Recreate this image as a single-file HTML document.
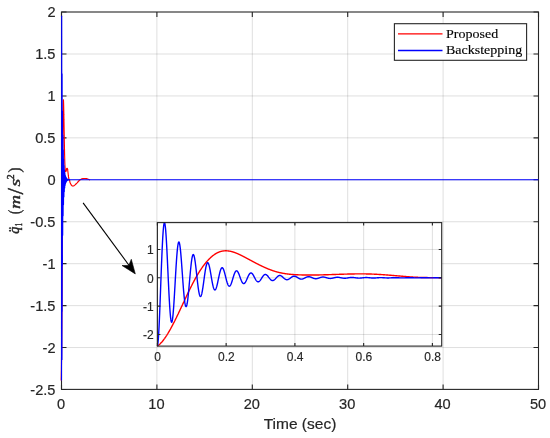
<!DOCTYPE html>
<html><head><meta charset="utf-8"><title>plot</title>
<style>html,body{margin:0;padding:0;background:#fff;width:550px;height:438px;overflow:hidden}svg{display:block}</style>
</head><body>
<svg width="550" height="438" viewBox="0 0 550 438">
<rect width="550" height="438" fill="#fff"/>
<path d="M156.90 12.00V389.40M252.30 12.00V389.40M347.70 12.00V389.40M443.10 12.00V389.40M61.50 54.00H538.50M61.50 95.93H538.50M61.50 137.87H538.50M61.50 179.80H538.50M61.50 221.74H538.50M61.50 263.67H538.50M61.50 305.61H538.50M61.50 347.54H538.50" stroke="#262626" stroke-opacity="0.15" stroke-width="1" fill="none"/>
<path d="M61.50 389.40v-5.00M61.50 12.00v5.00M156.90 389.40v-5.00M156.90 12.00v5.00M252.30 389.40v-5.00M252.30 12.00v5.00M347.70 389.40v-5.00M347.70 12.00v5.00M443.10 389.40v-5.00M443.10 12.00v5.00M538.50 389.40v-5.00M538.50 12.00v5.00M61.50 12.06h5.00M538.50 12.06h-5.00M61.50 54.00h5.00M538.50 54.00h-5.00M61.50 95.93h5.00M538.50 95.93h-5.00M61.50 137.87h5.00M538.50 137.87h-5.00M61.50 179.80h5.00M538.50 179.80h-5.00M61.50 221.74h5.00M538.50 221.74h-5.00M61.50 263.67h5.00M538.50 263.67h-5.00M61.50 305.61h5.00M538.50 305.61h-5.00M61.50 347.54h5.00M538.50 347.54h-5.00M61.50 389.48h5.00M538.50 389.48h-5.00" stroke="#262626" stroke-width="1.1" fill="none"/>
<rect x="61.50" y="12.00" width="477.00" height="377.40" stroke="#262626" stroke-width="1.1" fill="none"/>
<path d="M61.20 380.42L61.21 380.10L61.22 379.78L61.22 379.46L61.23 379.12L61.24 378.77L61.25 378.42L61.25 378.06L61.26 377.69L61.27 377.32L61.27 376.93L61.28 376.54L61.29 376.14L61.30 375.73L61.30 375.32L61.31 374.90L61.32 374.47L61.33 374.03L61.33 373.59L61.34 373.14L61.35 372.68L61.35 372.21L61.36 371.74L61.37 371.26L61.37 372.21L61.38 371.71L61.39 371.21L61.39 370.69L61.40 370.18L61.41 369.65L61.41 369.12L61.42 368.58L61.43 368.03L61.43 367.48L61.44 366.92L61.45 366.36L61.45 365.79L61.46 365.21L61.47 364.62L61.47 364.03L61.48 363.44L61.49 362.83L61.49 362.22L61.50 361.61L61.51 360.99L61.51 360.36L61.52 359.72L61.53 359.09L61.53 358.44L61.54 357.79L61.54 357.13L61.55 356.47L61.56 355.80L61.56 355.13L61.57 354.45L61.57 353.76L61.58 353.07L61.59 352.38L61.59 351.68L61.60 350.97L61.61 350.26L61.61 349.55L61.62 348.82L61.62 348.10L61.63 347.37L61.63 346.63L61.64 345.89L61.65 345.14L61.65 344.39L61.66 343.63L61.66 342.87L61.67 342.11L61.68 341.34L61.68 340.56L61.69 339.78L61.69 339.00L61.70 338.21L61.70 337.42L61.71 336.63L61.72 335.82L61.72 335.02L61.73 334.21L61.73 333.40L61.74 332.58L61.74 331.76L61.75 330.93L61.76 330.11L61.76 329.27L61.77 328.44L61.77 327.60L61.78 326.75L61.78 325.90L61.79 325.05L61.79 324.20L61.80 323.34L61.81 322.48L61.81 321.61L61.82 320.75L61.82 319.87L61.83 319.00L61.83 318.12L61.84 317.24L61.84 316.36L61.85 315.47L61.85 314.58L61.86 313.69L61.86 312.79L61.87 311.89L61.87 310.99L61.88 310.09L61.89 309.18L61.89 308.27L61.90 307.36L61.90 306.45L61.91 305.53L61.91 304.61L61.92 303.69L61.92 302.76L61.93 301.84L61.93 300.91L61.94 299.98L61.94 299.05L61.95 298.11L61.95 297.17L61.96 296.24L61.96 295.29L61.97 294.35L61.97 293.41L61.98 292.46L61.98 291.51L61.99 290.56L61.99 289.61L62.00 288.66L62.00 287.70L62.01 286.75L62.01 285.79L62.02 284.83L62.02 283.87L62.03 282.91L62.03 281.94L62.04 280.98L62.04 280.01L62.05 279.05L62.05 278.08L62.06 277.11L62.06 276.14L62.07 275.17L62.07 274.19L62.08 273.22L62.08 272.25L62.09 271.27L62.09 270.30L62.10 269.32L62.10 268.35L62.11 267.37L62.11 266.39L62.12 265.41L62.12 264.43L62.13 263.46L62.13 262.48L62.14 261.50L62.14 260.52L62.15 259.54L62.15 258.56L62.16 257.58L62.16 256.60L62.17 255.62L62.17 254.64L62.18 253.66L62.18 252.68L62.19 251.70L62.19 250.72L62.20 249.74L62.20 248.76L62.21 247.78L62.21 246.80L62.21 245.82L62.22 244.84L62.22 243.87L62.23 242.89L62.23 241.92L62.24 240.94L62.24 239.97L62.25 238.99L62.25 238.02L62.26 237.05L62.26 236.08L62.27 235.11L62.27 234.14L62.28 233.17L62.28 232.21L62.29 231.24L62.29 230.28L62.29 229.31L62.30 228.35L62.30 227.39L62.31 226.43L62.31 225.48L62.32 224.52L62.32 223.57L62.33 222.61L62.33 221.66L62.34 220.71L62.34 219.77L62.35 218.82L62.35 217.88L62.36 216.93L62.36 215.99L62.36 215.06L62.37 214.12L62.37 213.19L62.38 212.25L62.38 211.32L62.39 210.40L62.39 209.47L62.40 208.55L62.40 207.63L62.41 206.71L62.41 205.79L62.42 204.88L62.42 203.97L62.42 203.06L62.43 202.16L62.43 201.25L62.44 200.35L62.44 199.46L62.45 198.56L62.45 197.67L62.46 196.78L62.46 195.89L62.47 195.01L62.47 194.13L62.47 193.26L62.48 192.38L62.48 191.51L62.49 190.65L62.49 189.78L62.50 188.92L62.50 188.07L62.51 187.21L62.51 186.36L62.52 185.52L62.52 184.67L62.52 183.83L62.53 183.00L62.53 182.17L62.54 181.34L62.54 180.51L62.55 179.69L62.55 178.88L62.56 178.07L62.56 177.26L62.56 176.45L62.57 175.65L62.57 174.86L62.58 174.06L62.58 173.27L62.59 172.49L62.59 171.71L62.60 170.93L62.60 170.16L62.61 169.39L62.61 168.62L62.61 167.86L62.62 167.11L62.62 166.35L62.63 165.61L62.63 164.86L62.64 164.12L62.64 163.38L62.65 162.65L62.65 161.92L62.65 161.20L62.66 160.48L62.66 159.76L62.67 159.05L62.67 158.34L62.68 157.63L62.68 156.93L62.69 156.24L62.69 155.54L62.69 154.85L62.70 154.17L62.70 153.49L62.71 152.81L62.71 152.14L62.72 151.47L62.72 150.81L62.73 150.15L62.73 149.49L62.73 148.84L62.74 148.19L62.74 147.55L62.75 146.91L62.75 146.28L62.76 145.65L62.76 145.02L62.77 144.40L62.77 143.78L62.77 143.16L62.78 142.55L62.78 141.95L62.79 141.35L62.79 140.75L62.80 140.15L62.80 139.56L62.80 138.98L62.81 138.40L62.81 137.82L62.82 137.25L62.82 136.68L62.83 136.12L62.83 135.56L62.84 135.00L62.84 134.45L62.84 133.90L62.85 133.36L62.85 132.82L62.86 132.28L62.86 131.75L62.87 131.23L62.87 130.70L62.88 130.19L62.88 129.67L62.88 129.16L62.89 128.66L62.89 128.16L62.90 127.66L62.90 127.17L62.91 126.68L62.91 126.20L62.91 125.72L62.92 125.24L62.92 124.77L62.93 124.31L62.93 123.84L62.94 123.39L62.94 122.93L62.95 122.48L62.95 122.04L62.95 121.60L62.96 121.16L62.96 120.73L62.97 120.30L62.97 119.88L62.98 119.46L62.98 119.05L62.98 118.64L62.99 118.23L62.99 117.83L63.00 117.43L63.00 117.04L63.01 116.65L63.01 116.27L63.01 115.89L63.02 115.51L63.02 115.14L63.03 114.78L63.03 114.41L63.04 114.06L63.04 113.70L63.05 113.35L63.05 113.01L63.05 112.67L63.06 112.34L63.06 112.01L63.07 111.68L63.07 111.36L63.08 111.04L63.08 110.73L63.08 110.42L63.09 110.11L63.09 109.81L63.10 109.52L63.10 109.23L63.11 108.94L63.11 108.66L63.11 108.38L63.12 108.11L63.12 107.84L63.13 107.58L63.13 107.32L63.14 107.07L63.14 106.82L63.15 106.57L63.15 106.33L63.15 106.09L63.16 105.86L63.16 105.63L63.17 105.41L63.17 105.19L63.18 104.98L63.18 104.77L63.18 104.56L63.19 104.36L63.19 104.17L63.20 103.98L63.20 103.79L63.21 103.61L63.21 103.43L63.21 103.26L63.22 103.09L63.22 102.93L63.23 102.77L63.23 102.62L63.24 102.47L63.24 102.32L63.25 102.18L63.25 102.04L63.25 101.91L63.26 101.78L63.26 101.66L63.27 101.54L63.27 101.43L63.28 101.32L63.28 101.21L63.28 101.11L63.29 101.01L63.29 100.92L63.30 100.83L63.30 100.75L63.31 100.67L63.31 100.59L63.31 100.52L63.32 100.45L63.32 100.38L63.33 100.32L63.33 100.27L63.34 100.21L63.34 100.16L63.34 100.12L63.35 100.08L63.35 100.04L63.36 100.01L63.36 99.98L63.37 99.95L63.37 99.93L63.37 99.91L63.38 99.90L63.38 99.88L63.39 99.88L63.39 99.87L63.40 99.87L63.40 99.88L63.41 99.88L63.41 99.89L63.41 99.91L63.42 99.92L63.42 99.94L63.43 99.97L63.43 99.99L63.44 100.03L63.44 100.06L63.44 100.10L63.45 100.14L63.45 100.18L63.46 100.23L63.46 100.28L63.47 100.33L63.47 100.39L63.47 100.45L63.48 100.51L63.48 100.57L63.49 100.64L63.49 100.72L63.50 100.79L63.50 100.87L63.50 100.95L63.51 101.03L63.51 101.12L63.52 101.21L63.52 101.30L63.53 101.39L63.53 101.49L63.53 101.59L63.54 101.69L63.54 101.80L63.55 101.91L63.55 102.02L63.56 102.13L63.56 102.25L63.56 102.37L63.57 102.49L63.57 102.61L63.58 102.74L63.58 102.87L63.59 103.00L63.59 103.13L63.59 103.27L63.60 103.41L63.60 103.55L63.61 103.69L63.61 103.84L63.62 103.99L63.62 104.14L63.62 104.29L63.63 104.44L63.63 104.60L63.64 104.76L63.64 104.92L63.65 105.08L63.65 105.25L63.66 105.41L63.66 105.58L63.66 105.75L63.67 105.93L63.67 106.10L63.68 106.28L63.68 106.46L63.69 106.64L63.69 106.82L63.69 107.00L63.70 107.19L63.70 107.38L63.71 107.57L63.71 107.76L63.72 107.95L63.72 108.14L63.72 108.34L63.73 108.54L63.73 108.74L63.74 108.94L63.74 109.14L63.75 109.34L63.75 109.55L63.75 109.75L63.76 109.96L63.76 110.17L63.77 110.38L63.77 110.59L63.78 110.81L63.78 111.02L63.78 111.24L63.79 111.45L63.79 111.67L63.80 111.89L63.80 112.11L63.81 112.34L63.81 112.56L63.81 112.78L63.82 113.01L63.82 113.23L63.83 113.46L63.83 113.69L63.84 113.92L63.84 114.15L63.84 114.38L63.85 114.61L63.85 114.84L63.86 115.08L63.86 115.31L63.87 115.55L63.87 115.78L63.87 116.02L63.88 116.26L63.88 116.49L63.89 116.73L63.89 116.97L63.90 117.21L63.90 117.45L63.90 117.69L63.91 117.93L63.91 118.17L63.92 118.42L63.92 118.66L63.93 118.90L63.93 119.15L63.93 119.39L63.94 119.63L63.94 119.88L63.95 120.12L63.95 120.37L63.96 120.61L63.96 120.86L63.96 121.11L63.97 121.35L63.97 121.60L63.98 121.84L63.98 122.09L63.99 122.34L63.99 122.58L64.00 122.83L64.00 123.07L64.00 123.32L64.01 123.57L64.01 123.81L64.02 124.06L64.02 124.31L64.03 124.55L64.03 124.80L64.03 125.05L64.04 125.29L64.04 125.54L64.05 125.79L64.05 126.03L64.06 126.28L64.06 126.52L64.06 126.77L64.07 127.02L64.07 127.26L64.08 127.51L64.08 127.76L64.09 128.00L64.09 128.25L64.09 128.49L64.10 128.74L64.10 128.98L64.11 129.23L64.11 129.47L64.12 129.72L64.12 129.96L64.12 130.21L64.13 130.45L64.13 130.70L64.14 130.94L64.14 131.18L64.15 131.43L64.15 131.67L64.15 131.91L64.16 132.16L64.16 132.40L64.17 132.64L64.17 132.88L64.18 133.13L64.18 133.37L64.18 133.61L64.19 133.85L64.19 134.09L64.20 134.33L64.20 134.57L64.21 134.81L64.21 135.05L64.21 135.29L64.22 135.53L64.22 135.77L64.23 136.01L64.23 136.25L64.24 136.48L64.24 136.72L64.24 136.96L64.25 137.19L64.25 137.43L64.26 137.67L64.26 137.90L64.27 138.14L64.27 138.37L64.27 138.61L64.28 138.84L64.28 139.07L64.29 139.31L64.29 139.54L64.30 139.77L64.30 140.00L64.30 140.23L64.31 140.46L64.31 140.69L64.32 140.92L64.32 141.15L64.33 141.38L64.33 141.61L64.33 141.84L64.34 142.06L64.34 142.29L64.35 142.52L64.35 142.74L64.36 142.97L64.36 143.19L64.36 143.42L64.37 143.64L64.37 143.86L64.38 144.08L64.38 144.31L64.39 144.53L64.39 144.75L64.39 144.97L64.40 145.19L64.40 145.40L64.41 145.62L64.41 145.84L64.42 146.06L64.42 146.27L64.42 146.49L64.43 146.70L64.43 146.92L64.44 147.13L64.44 147.34L64.45 147.55L64.45 147.76L64.45 147.97L64.46 148.18L64.46 148.39L64.47 148.60L64.47 148.81L64.48 149.02L64.48 149.22L64.49 149.43L64.49 149.63L64.49 149.83L64.50 150.04L64.50 150.24L64.51 150.44L64.51 150.64L64.52 150.84L64.52 151.04L64.52 151.24L64.53 151.43L64.53 151.63L64.54 151.83L64.54 152.02L64.55 152.21L64.55 152.41L64.55 152.60L64.56 152.79L64.56 152.98L64.57 153.17L64.57 153.36L64.58 153.54L64.58 153.73L64.58 153.92L64.59 154.10L64.59 154.28L64.60 154.47L64.60 154.65L64.61 154.83L64.61 155.01L64.61 155.19L64.62 155.37L64.62 155.54L64.63 155.72L64.63 155.89L64.64 156.07L64.64 156.24L64.64 156.41L64.65 156.58L64.65 156.75L64.66 156.92L64.66 157.09L64.67 157.26L64.67 157.42L64.67 157.58L64.68 157.75L64.68 157.91L64.69 158.07L64.69 158.23L64.70 158.39L64.70 158.55L64.70 158.70L64.71 158.86L64.71 159.01L64.72 159.17L64.72 159.32L64.73 159.47L64.73 159.62L64.73 159.77L64.74 159.92L64.74 160.06L64.75 160.21L64.75 160.35L64.76 160.49L64.76 160.63L64.76 160.77L64.77 160.91L64.77 161.05L64.78 161.19L64.78 161.32L64.79 161.46L64.79 161.59L64.79 161.72L64.80 161.85L64.80 161.98L64.81 162.11L64.81 162.23L64.82 162.36L64.82 162.48L64.82 162.61L64.83 162.73L64.83 162.85L64.84 162.97L64.84 163.09L64.85 163.20L64.85 163.32L64.85 163.44L64.86 163.55L64.86 163.66L64.87 163.77L64.87 163.88L64.88 163.99L64.88 164.10L64.88 164.21L64.89 164.32L64.89 164.42L64.90 164.53L64.90 164.63L64.91 164.73L64.91 164.83L64.91 164.93L64.92 165.03L64.92 165.13L64.93 165.22L64.93 165.32L64.94 165.42L64.94 165.51L64.94 165.60L64.95 165.69L64.95 165.78L64.96 165.87L64.96 165.96L64.97 166.05L64.97 166.14L64.97 166.22L64.98 166.31L64.98 166.39L64.99 166.48L64.99 166.56L65.00 166.64L65.00 166.72L65.00 166.80L65.01 166.88L65.01 166.95L65.02 167.03L65.02 167.11L65.03 167.18L65.03 167.25L65.03 167.33L65.04 167.40L65.04 167.47L65.05 167.54L65.05 167.61L65.06 167.68L65.06 167.75L65.06 167.81L65.07 167.88L65.07 167.95L65.08 168.01L65.08 168.07L65.09 168.14L65.09 168.20L65.10 168.26L65.10 168.32L65.10 168.38L65.11 168.44L65.11 168.50L65.12 168.56L65.12 168.61L65.13 168.67L65.13 168.72L65.13 168.78L65.14 168.83L65.14 168.88L65.15 168.94L65.15 168.99L65.16 169.04L65.16 169.09L65.16 169.14L65.17 169.19L65.17 169.23L65.18 169.28L65.18 169.33L65.19 169.37L65.19 169.42L65.19 169.46L65.20 169.51L65.20 169.55L65.21 169.59L65.21 169.63L65.22 169.68L65.22 169.72L65.22 169.76L65.23 169.80L65.23 169.83L65.24 169.87L65.24 169.91L65.25 169.95L65.25 169.98L65.25 170.02L65.26 170.06L65.26 170.09L65.27 170.12L65.27 170.16L65.28 170.19L65.28 170.22L65.28 170.25L65.29 170.29L65.29 170.32L65.30 170.35L65.30 170.38L65.31 170.41L65.31 170.44L65.31 170.46L65.32 170.49L65.32 170.52L65.33 170.55L65.33 170.57L65.34 170.60L65.34 170.62L65.34 170.65L65.35 170.67L65.35 170.70L65.36 170.72L65.36 170.74L65.37 170.77L65.37 170.79L65.37 170.81L65.38 170.83L65.38 170.85L65.39 170.87L65.39 170.89L65.40 170.91L65.40 170.93L65.40 170.95L65.41 170.97L65.41 170.99L65.42 171.01L65.42 171.02L65.43 171.04L65.43 171.06L65.43 171.08L65.44 171.09L65.44 171.11L65.45 171.12L65.45 171.14L65.46 171.15L65.46 171.17L65.46 171.18L65.47 171.20L65.47 171.21L65.48 171.22L65.48 171.24L65.49 171.25L65.49 171.26L65.49 171.28L65.50 171.29L65.50 171.30L65.51 171.31L65.51 171.32L65.52 171.34L65.52 171.35L65.52 171.36L65.53 171.37L65.53 171.38L65.54 171.39L65.54 171.40L65.55 171.41L65.55 171.42L65.55 171.43L65.56 171.43L65.56 171.44L65.57 171.45L65.57 171.46L65.58 171.47L65.58 171.48L65.58 171.48L65.59 171.49L65.59 171.50L65.60 171.50L65.60 171.51L65.61 171.52L65.61 171.52L65.61 171.53L65.62 171.53L65.62 171.54L65.63 171.54L65.63 171.55L65.64 171.55L65.64 171.56L65.64 171.56L65.65 171.57L65.65 171.57L65.66 171.57L65.66 171.58L65.67 171.58L65.67 171.58L65.67 171.59L65.68 171.59L65.68 171.59L65.69 171.59L65.69 171.60L65.70 171.60L65.70 171.60L65.70 171.60L65.71 171.60L65.71 171.60L65.72 171.60L65.72 171.60L65.73 171.60L65.73 171.60L65.74 171.60L65.74 171.60L65.74 171.60L65.75 171.60L65.75 171.60L65.76 171.60L65.76 171.60L65.77 171.60L65.77 171.60L65.77 171.60L65.78 171.59L65.78 171.59L65.79 171.59L65.79 171.59L65.80 171.58L65.80 171.58L65.80 171.58L65.81 171.58L65.81 171.57L65.82 171.57L65.82 171.57L65.83 171.56L65.83 171.56L65.83 171.55L65.84 171.55L65.84 171.55L65.85 171.54L65.85 171.54L65.86 171.53L65.86 171.53L65.86 171.52L65.87 171.52L65.87 171.51L65.88 171.50L65.88 171.50L65.89 171.49L65.89 171.49L65.89 171.48L65.90 171.47L65.90 171.47L65.91 171.46L65.91 171.45L65.92 171.45L65.92 171.44L65.92 171.43L65.93 171.42L65.93 171.42L65.94 171.41L65.94 171.40L65.95 171.39L65.95 171.39L65.95 171.38L65.96 171.37L65.96 171.36L65.97 171.35L65.97 171.34L65.98 171.33L65.98 171.33L65.98 171.32L65.99 171.31L65.99 171.30L66.00 171.29L66.00 171.28L66.01 171.27L66.01 171.26L66.01 171.25L66.02 171.24L66.02 171.23L66.03 171.22L66.03 171.21L66.04 171.20L66.04 171.19L66.04 171.18L66.05 171.17L66.05 171.15L66.06 171.14L66.06 171.13L66.07 171.12L66.07 171.11L66.07 171.10L66.08 171.09L66.08 171.07L66.09 171.06L66.09 171.05L66.10 171.04L66.10 171.03L66.10 171.01L66.11 171.00L66.11 170.99L66.12 170.98L66.12 170.97L66.13 170.95L66.13 170.94L66.13 170.93L66.14 170.91L66.14 170.90L66.15 170.89L66.15 170.88L66.16 170.86L66.16 170.85L66.16 170.84L66.17 170.82L66.17 170.81L66.18 170.80L66.18 170.78L66.19 170.77L66.19 170.76L66.19 170.74L66.20 170.73L66.20 170.71L66.21 170.70L66.21 170.69L66.22 170.67L66.22 170.66L66.22 170.64L66.23 170.63L66.23 170.61L66.24 170.60L66.24 170.59L66.25 170.57L66.25 170.56L66.25 170.54L66.26 170.53L66.26 170.51L66.27 170.50L66.27 170.48L66.28 170.47L66.28 170.45L66.28 170.44L66.29 170.42L66.29 170.41L66.30 170.39L66.30 170.38L66.31 170.36L66.31 170.35L66.31 170.33L66.32 170.32L66.32 170.30L66.33 170.29L66.33 170.27L66.34 170.26L66.34 170.24L66.34 170.23L66.35 170.21L66.35 170.20L66.36 170.18L66.36 170.17L66.37 170.15L66.37 170.13L66.37 170.12L66.38 170.10L66.38 170.09L66.39 170.07L66.39 170.06L66.40 170.04L66.40 170.03L66.41 170.01L66.41 169.99L66.41 169.98L66.42 169.96L66.42 169.95L66.43 169.93L66.43 169.92L66.44 169.90L66.44 169.88L66.44 169.87L66.45 169.85L66.45 169.84L66.46 169.82L66.46 169.81L66.47 169.79L66.47 169.78L66.47 169.76L66.48 169.74L66.48 169.73L66.49 169.71L66.49 169.70L66.50 169.68L66.50 169.67L66.50 169.65L66.51 169.64L66.51 169.62L66.52 169.60L66.52 169.59L66.53 169.57L66.53 169.56L66.53 169.54L66.54 169.53L66.54 169.51L66.55 169.50L66.55 169.48L66.56 169.47L66.56 169.45L66.56 169.44L66.57 169.42L66.57 169.41L66.58 169.39L66.58 169.38L66.59 169.36L66.59 169.35L66.59 169.33L66.60 169.32L66.60 169.30L66.61 169.29L66.61 169.27L66.62 169.26L66.62 169.24L66.62 169.23L66.63 169.22L66.63 169.20L66.64 169.19L66.64 169.17L66.65 169.16L66.65 169.14L66.65 169.13L66.66 169.12L66.66 169.10L66.67 169.09L66.67 169.07L66.68 169.06L66.68 169.05L66.68 169.03L66.69 169.02L66.69 169.01L66.70 168.99L66.70 168.98L66.71 168.96L66.71 168.95L66.71 168.94L66.72 168.93L66.72 168.91L66.73 168.90L66.73 168.89L66.74 168.87L66.74 168.86L66.74 168.85L66.75 168.84L66.75 168.82L66.76 168.81L66.76 168.80L66.77 168.79L66.77 168.77L66.77 168.76L66.78 168.75L66.78 168.74L66.79 168.73L66.79 168.72L66.80 168.70L66.80 168.69L66.80 168.68L66.81 168.67L66.81 168.66L66.82 168.65L66.82 168.64L66.83 168.63L66.83 168.61L66.83 168.60L66.84 168.59L66.84 168.58L66.85 168.57L66.85 168.56L66.86 168.55L66.86 168.54L66.86 168.53L66.87 168.52L66.87 168.51L66.88 168.50L66.88 168.49L66.89 168.49L66.89 168.48L66.89 168.47L66.90 168.46L66.90 168.45L66.91 168.44L66.91 168.43L66.92 168.42L66.92 168.42L66.92 168.41L66.93 168.40L66.93 168.39L66.94 168.38L66.94 168.38L66.95 168.37L66.95 168.36L66.95 168.36L66.96 168.35L66.96 168.34L66.97 168.33L66.97 168.33L66.98 168.32L66.98 168.32L66.98 168.31L66.99 168.30L66.99 168.30L67.00 168.29L67.00 168.29L67.01 168.28L67.01 168.28L67.01 168.27L67.02 168.27L67.02 168.26L67.03 168.26L67.03 168.25L67.04 168.25L67.04 168.24L67.05 168.24L67.05 168.24L67.05 168.23L67.06 168.23L67.06 168.23L67.07 168.22L67.07 168.22L67.08 168.22L67.08 168.21L67.08 168.21L67.09 168.21L67.09 168.21L67.10 168.21L67.10 168.20L67.11 168.20L67.11 168.20L67.11 168.20L67.12 168.20L67.12 168.20L67.13 168.20L67.13 168.20L67.14 168.20L67.14 168.20L67.14 168.20L67.15 168.20L67.15 168.20L67.16 168.20L67.16 168.20L67.17 168.20L67.17 168.20L67.17 168.21L67.18 168.21L67.18 168.21L67.19 168.21L67.19 168.21L67.20 168.22L67.20 168.22L67.20 168.22L67.21 168.23L67.21 168.23L67.22 168.23L67.22 168.24L67.23 168.24L67.23 168.24L67.23 168.25L67.24 168.25L67.24 168.26L67.25 168.26L67.25 168.27L67.26 168.27L67.26 168.28L67.26 168.29L67.27 168.29L67.27 168.30L67.28 168.31L67.28 168.31L67.29 168.32L67.29 168.33L67.29 168.34L67.30 168.34L67.30 168.35L67.31 168.36L67.31 168.37L67.32 168.38L67.32 168.39L67.32 168.40L67.33 168.41L67.33 168.42L67.34 168.43L67.34 168.44L67.35 168.45L67.35 168.46L67.35 168.47L67.36 168.48L67.36 168.49L67.37 168.50L67.37 168.51L67.38 168.53L67.38 168.54L67.38 168.55L67.39 168.57L67.39 168.58L67.40 168.59L67.40 168.61L67.41 168.62L67.41 168.63L67.41 168.65L67.42 168.66L67.42 168.68L67.43 168.69L67.43 168.71L67.44 168.73L67.44 168.74L67.44 168.76L67.45 168.78L67.45 168.79L67.46 168.81L67.46 168.83L67.47 168.85L67.47 168.86L67.47 168.88L67.48 168.90L67.48 168.92L67.49 168.94L67.49 168.96L67.50 168.98L67.50 169.00L67.50 169.02L67.51 169.04L67.51 169.06L67.52 169.08L67.52 169.10L67.53 169.12L67.53 169.14L67.53 169.16L67.54 169.19L67.54 169.21L67.55 169.23L67.55 169.25L67.56 169.28L67.56 169.30L67.56 169.32L67.57 169.35L67.57 169.37L67.58 169.39L67.58 169.42L67.59 169.44L67.59 169.47L67.59 169.49L67.60 169.52L67.60 169.54L67.61 169.57L67.61 169.59L67.62 169.62L67.62 169.64L67.62 169.67L67.63 169.70L67.63 169.72L67.64 169.75L67.64 169.78L67.65 169.80L67.65 169.83L67.65 169.86L67.66 169.89L67.66 169.92L67.67 169.94L67.67 169.97L67.68 170.00L67.68 170.03L67.69 170.06L67.69 170.09L67.69 170.12L67.70 170.15L67.70 170.17L67.71 170.20L67.71 170.23L67.72 170.26L67.72 170.29L67.72 170.32L67.73 170.36L67.73 170.39L67.74 170.42L67.74 170.45L67.75 170.48L67.75 170.51L67.75 170.54L67.76 170.57L67.76 170.60L67.77 170.64L67.77 170.67L67.78 170.70L67.78 170.73L67.78 170.77L67.79 170.80L67.79 170.83L67.80 170.86L67.80 170.90L67.81 170.93L67.81 170.96L67.81 171.00L67.82 171.03L67.82 171.06L67.83 171.10L67.83 171.13L67.84 171.17L67.84 171.20L67.84 171.23L67.85 171.27L67.85 171.30L67.86 171.34L67.86 171.37L67.87 171.41L67.87 171.44L67.87 171.48L67.88 171.51L67.88 171.55L67.89 171.58L67.89 171.62L67.90 171.65L67.90 171.69L67.90 171.73L67.91 171.76L67.91 171.80L67.92 171.83L67.92 171.87L67.93 171.91L67.93 171.94L67.93 171.98L67.94 172.01L67.94 172.05L67.95 172.09L67.95 172.12L67.96 172.16L67.96 172.20L67.96 172.24L67.97 172.27L67.97 172.31L67.98 172.35L67.98 172.38L67.99 172.42L67.99 172.46L67.99 172.50L68.00 172.53L68.00 172.57L68.01 172.61L68.01 172.65L68.02 172.68L68.02 172.72L68.02 172.76L68.03 172.80L68.03 172.84L68.04 172.87L68.04 172.91L68.05 172.95L68.05 172.99L68.05 173.03L68.06 173.07L68.06 173.10L68.07 173.14L68.07 173.18L68.08 173.22L68.08 173.26L68.08 173.30L68.09 173.33L68.09 173.37L68.10 173.41L68.10 173.45L68.11 173.49L68.11 173.53L68.11 173.57L68.12 173.60L68.12 173.64L68.13 173.68L68.13 173.72L68.14 173.76L68.14 173.80L68.14 173.84L68.15 173.88L68.15 173.91L68.16 173.95L68.16 173.99L68.17 174.03L68.17 174.07L68.17 174.11L68.18 174.15L68.18 174.19L68.19 174.23L68.19 174.26L68.20 174.30L68.20 174.34L68.20 174.38L68.21 174.42L68.21 174.46L68.22 174.50L68.22 174.54L68.23 174.57L68.23 174.61L68.23 174.65L68.24 174.69L68.24 174.73L68.25 174.77L68.25 174.81L68.26 174.84L68.26 174.88L68.26 174.92L68.27 174.96L68.27 175.00L68.28 175.04L68.28 175.07L68.29 175.11L68.29 175.15L68.29 175.19L68.30 175.23L68.30 175.27L68.31 175.30L68.31 175.34L68.32 175.38L68.32 175.42L68.32 175.46L68.33 175.49L68.33 175.53L68.34 175.57L68.34 175.61L68.35 175.64L68.35 175.68L68.36 175.72L68.36 175.76L68.36 175.79L68.37 175.83L68.37 175.87L68.38 175.90L68.38 175.94L68.39 175.98L68.39 176.02L68.39 176.05L68.40 176.09L68.40 176.13L68.41 176.16L68.41 176.20L68.42 176.23L68.42 176.27L68.42 176.31L68.43 176.34L68.43 176.38L68.44 176.42L68.44 176.45L68.45 176.49L68.45 176.52L68.45 176.56L68.46 176.59L68.46 176.63L68.47 176.66L68.47 176.70L68.48 176.73L68.48 176.77L68.48 176.80L68.49 176.84L68.49 176.87L68.50 176.91L68.50 176.94L68.51 176.98L68.51 177.01L68.51 177.04L68.52 177.08L68.52 177.11L68.53 177.14L68.53 177.18L68.54 177.21L68.54 177.24L68.54 177.28L68.55 177.31L68.55 177.34L68.56 177.38L68.56 177.41L68.57 177.44L68.57 177.46L68.57 177.49L68.58 177.52L68.58 177.55L68.59 177.58L68.59 177.61L68.60 177.63L68.60 177.66L68.60 177.69L68.61 177.71L68.61 177.74L68.62 177.77L68.62 177.79L68.63 177.82L68.63 177.84L68.63 177.87L68.64 177.90L68.64 177.92L68.65 177.94L68.65 177.97L68.66 177.99L68.66 178.02L68.66 178.04L68.67 178.07L68.67 178.09L68.68 178.11L68.68 178.13L68.69 178.16L68.69 178.18L68.69 178.20L68.70 178.22L68.70 178.25L68.71 178.27L68.71 178.29L68.72 178.31L68.72 178.33L68.72 178.35L68.73 178.37L68.73 178.39L68.74 178.41L68.74 178.43L68.75 178.45L68.75 178.47L68.75 178.49L68.76 178.51L68.76 178.53L68.77 178.54L68.77 178.56L68.78 178.58L68.78 178.60L68.78 178.61L68.79 178.63L68.79 178.65L68.80 178.66L68.80 178.68L68.81 178.70L68.81 178.71L68.81 178.73L68.82 178.74L68.82 178.76L68.83 178.77L68.83 178.78L68.84 178.80L68.84 178.81L68.84 178.82L68.85 178.84L68.85 178.85L68.86 178.86L68.86 178.87L68.87 178.89L68.87 178.90L68.87 178.91L68.88 178.92L68.88 178.93L68.89 178.94L68.89 178.95L68.90 178.96L68.90 178.97L68.90 178.98L68.91 178.99L68.91 179.00L68.92 179.01L68.92 179.02L68.93 179.02L68.93 179.03L68.93 179.04L68.94 179.05L68.94 179.06L68.95 179.06L68.95 179.07L68.96 179.08L68.96 179.08L68.96 179.09L68.97 179.10L68.97 179.10L68.98 179.11L68.98 179.11L68.99 179.12L68.99 179.12L69.00 179.13L69.00 179.13L69.00 179.14L69.01 179.14L69.01 179.15L69.02 179.15L69.02 179.16L69.03 179.16L69.03 179.16L69.03 179.17L69.04 179.17L69.04 179.18L69.05 179.18L69.05 179.18L69.06 179.19L69.06 179.19L69.06 179.19L69.07 179.19L69.07 179.20L69.08 179.20L69.08 179.20L69.09 179.21L69.09 179.21L69.09 179.21L69.10 179.21L69.10 179.22L69.11 179.22L69.11 179.22L69.12 179.22L69.12 179.22L69.12 179.23L69.13 179.23L69.13 179.23L69.14 179.23L69.14 179.24L69.15 179.24L69.15 179.24L69.15 179.24L69.16 179.25L69.16 179.25L69.17 179.25L69.17 179.25L69.18 179.26L69.18 179.26L69.18 179.26L69.19 179.27L69.19 179.27L69.20 179.27L69.20 179.28L69.21 179.28L69.21 179.28L69.21 179.29L69.22 179.29L69.22 179.30L69.23 179.30L69.23 179.31L69.24 179.31L69.24 179.32L69.24 179.32L69.25 179.33L69.25 179.33L69.26 179.34L69.26 179.34L69.27 179.35L69.27 179.36L69.27 179.36L69.28 179.37L69.28 179.38L69.29 179.39L69.29 179.40L69.30 179.41L69.30 179.41L69.30 179.42L69.31 179.43L69.31 179.44L69.32 179.45L69.32 179.47L69.33 179.48L69.33 179.49L69.33 179.50L69.34 179.51L69.34 179.52L69.35 179.54L69.35 179.55L69.36 179.56L69.36 179.57L69.36 179.59L69.37 179.60L69.37 179.61L69.38 179.62L69.38 179.64L69.39 179.65L69.39 179.66L69.39 179.68L69.40 179.69L69.40 179.70L69.41 179.72L69.41 179.73L69.42 179.75L69.42 179.76L69.42 179.78L69.43 179.79L69.43 179.80L69.44 179.82L69.44 179.83L69.45 179.85L69.45 179.87L69.45 179.88L69.46 179.90L69.46 179.91L69.47 179.93L69.47 179.94L69.48 179.96L69.48 179.98L69.48 179.99L69.49 180.01L69.49 180.02L69.50 180.04L69.50 180.06L69.51 180.07L69.51 180.09L69.51 180.11L69.52 180.13L69.52 180.14L69.53 180.16L69.53 180.18L69.54 180.20L69.54 180.21L69.54 180.23L69.55 180.25L69.55 180.27L69.56 180.28L69.56 180.30L69.57 180.32L69.57 180.34L69.57 180.36L69.58 180.38L69.58 180.39L69.59 180.41L69.59 180.43L69.60 180.45L69.60 180.47L69.60 180.49L69.61 180.51L69.61 180.53L69.62 180.54L69.62 180.56L69.63 180.58L69.63 180.60L69.64 180.62L69.64 180.64L69.64 180.66L69.65 180.68L69.65 180.70L69.66 180.72L69.66 180.74L69.67 180.76L69.67 180.78L69.67 180.80L69.68 180.82L69.68 180.84L69.69 180.86L69.69 180.88L69.70 180.90L69.70 180.92L69.70 180.94L69.71 180.96L69.71 180.98L69.72 181.00L69.72 181.02L69.73 181.04L69.73 181.06L69.73 181.08L69.74 181.10L69.74 181.12L69.75 181.14L69.75 181.16L69.76 181.18L69.76 181.20L69.76 181.22L69.77 181.24L69.77 181.27L69.78 181.29L69.78 181.31L69.79 181.33L69.79 181.35L69.79 181.37L69.80 181.39L69.80 181.41L69.81 181.43L69.81 181.45L69.82 181.47L69.82 181.49L69.82 181.51L69.83 181.53L69.83 181.55L69.84 181.57L69.84 181.59L69.85 181.62L69.85 181.64L69.85 181.66L69.86 181.68L69.86 181.70L69.87 181.72L69.87 181.74L69.88 181.76L69.88 181.78L69.88 181.80L69.89 181.82L69.89 181.84L69.90 181.86L69.90 181.88L69.91 181.90L69.91 181.92L69.91 181.94L69.92 181.96L69.92 181.98L69.93 182.00L69.93 182.02L69.94 182.04L69.94 182.06L69.94 182.08L69.95 182.10L69.95 182.12L69.96 182.14L69.96 182.16L69.97 182.18L69.97 182.20L69.97 182.22L69.98 182.24L69.98 182.26L69.99 182.28L69.99 182.30L70.00 182.32L70.00 182.34L70.00 182.35L70.01 182.37L70.01 182.39L70.02 182.41L70.02 182.43L70.03 182.45L70.03 182.47L70.03 182.49L70.04 182.50L70.04 182.52L70.05 182.54L70.05 182.56L70.06 182.58L70.06 182.60L70.06 182.61L70.07 182.63L70.07 182.65L70.08 182.67L70.08 182.68L70.09 182.70L71.26 184.96L72.43 186.05L73.61 186.01L74.78 185.14L75.96 183.97L77.13 182.84L78.30 181.50L79.48 180.27L80.65 179.47L81.83 178.89L83.00 178.64L84.17 178.51L85.35 178.46L86.52 178.62L87.70 179.03L88.87 179.51L90.04 179.93" stroke="#ff0000" stroke-width="1.15" fill="none" stroke-linejoin="round"/>
<path d="M61.50 380.42L61.50 379.03L61.51 376.76L61.51 373.61L61.52 369.60L61.52 364.77L61.53 359.14L61.53 352.75L61.53 345.63L61.54 337.82L61.54 329.37L61.55 320.31L61.55 310.69L61.56 300.57L61.56 290.00L61.56 279.02L61.57 267.68L61.57 256.06L61.58 244.19L61.58 232.14L61.59 219.97L61.59 207.72L61.59 195.46L61.60 183.24L61.60 171.02L61.61 158.92L61.61 147.02L61.62 135.38L61.62 124.05L61.62 113.08L61.63 102.52L61.63 92.40L61.64 82.78L61.64 73.68L61.65 65.16L61.65 57.23L61.65 49.93L61.66 43.29L61.66 37.34L61.67 32.08L61.67 27.55L61.68 23.76L61.68 20.70L61.68 18.40L61.69 16.86L61.69 16.07L61.70 16.03L61.70 16.74L61.71 18.19L61.71 20.35L61.71 23.22L61.72 26.78L61.72 31.00L61.73 35.86L61.73 41.33L61.74 47.38L61.74 53.98L61.74 61.09L61.75 68.67L61.75 76.69L61.76 85.10L61.76 93.86L61.77 102.94L61.77 112.28L61.77 121.85L61.78 131.58L61.78 141.45L61.79 151.40L61.79 161.39L61.80 171.37L61.80 181.29L61.80 191.09L61.81 200.74L61.81 210.20L61.82 219.45L61.82 228.42L61.83 237.09L61.83 245.42L61.84 253.38L61.84 260.92L61.84 268.03L61.85 274.67L61.85 280.82L61.86 286.45L61.86 291.55L61.87 296.08L61.87 300.05L61.87 303.44L61.88 306.23L61.88 308.41L61.89 310.00L61.89 310.97L61.90 311.34L61.90 311.11L61.90 310.29L61.91 308.87L61.91 306.89L61.92 304.34L61.92 301.25L61.93 297.63L61.93 293.52L61.93 288.92L61.94 283.87L61.94 278.39L61.95 272.52L61.95 266.27L61.96 259.69L61.96 252.81L61.96 245.66L61.97 238.28L61.97 230.69L61.98 222.95L61.98 215.08L61.99 207.12L61.99 199.12L61.99 191.10L62.00 183.10L62.00 175.16L62.01 167.31L62.01 159.59L62.02 152.04L62.02 144.68L62.02 137.55L62.03 130.68L62.03 124.10L62.04 117.83L62.04 111.90L62.05 106.33L62.05 101.15L62.05 96.38L62.06 92.02L62.06 88.11L62.07 84.65L62.07 81.66L62.08 79.14L62.08 77.10L62.08 75.55L62.09 74.49L62.09 73.91L62.10 73.83L62.10 74.22L62.11 75.09L62.11 76.43L62.11 78.23L62.12 80.48L62.12 83.15L62.13 86.24L62.13 89.73L62.14 93.60L62.14 97.82L62.14 102.38L62.15 107.24L62.15 112.39L62.16 117.80L62.16 123.45L62.17 129.29L62.17 135.32L62.17 141.49L62.18 147.77L62.18 154.15L62.19 160.58L62.19 167.04L62.20 173.50L62.20 179.93L62.20 186.30L62.21 192.58L62.21 198.74L62.22 204.76L62.22 210.62L62.23 216.27L62.23 221.71L62.23 226.91L62.24 231.85L62.24 236.50L62.25 240.85L62.25 244.89L62.26 248.59L62.26 251.94L62.26 254.94L62.27 257.56L62.27 259.81L62.28 261.67L62.28 263.14L62.29 264.22L62.29 264.91L62.29 265.20L62.30 265.10L62.30 264.62L62.31 263.75L62.31 262.51L62.32 260.90L62.32 258.94L62.32 256.63L62.33 254.00L62.33 251.06L62.34 247.82L62.34 244.30L62.35 240.51L62.35 236.49L62.35 232.25L62.36 227.80L62.36 223.18L62.37 218.40L62.37 213.50L62.38 208.48L62.38 203.38L62.38 198.22L62.39 193.03L62.39 187.82L62.40 182.62L62.40 177.46L62.41 172.35L62.41 167.33L62.41 162.41L62.42 157.62L62.42 152.97L62.43 148.48L62.43 144.18L62.44 140.08L62.44 136.20L62.44 132.56L62.45 129.16L62.45 126.03L62.46 123.16L62.46 120.59L62.47 118.30L62.47 116.32L62.47 114.64L62.48 113.28L62.48 112.23L62.49 111.49L62.49 111.08L62.50 110.98L62.50 111.20L62.51 111.72L62.51 112.55L62.51 113.68L62.52 115.10L62.52 116.80L62.53 118.78L62.53 121.01L62.54 123.49L62.54 126.20L62.54 129.13L62.55 132.26L62.55 135.58L62.56 139.08L62.56 142.72L62.57 146.50L62.57 150.40L62.57 154.39L62.58 158.47L62.58 162.60L62.59 166.77L62.59 170.97L62.60 175.16L62.60 179.34L62.60 183.48L62.61 187.57L62.61 191.58L62.62 195.50L62.62 199.32L62.63 203.01L62.63 206.56L62.63 209.95L62.64 213.18L62.64 216.23L62.65 219.08L62.65 221.73L62.66 224.16L62.66 226.37L62.66 228.34L62.67 230.08L62.67 231.57L62.68 232.81L62.68 233.80L62.69 234.54L62.69 235.02L62.69 235.24L62.70 235.21L62.70 234.93L62.71 234.39L62.71 233.62L62.72 232.61L62.72 231.36L62.72 229.90L62.73 228.22L62.73 226.33L62.74 224.25L62.74 221.99L62.75 219.55L62.75 216.96L62.75 214.22L62.76 211.35L62.76 208.37L62.77 205.28L62.77 202.10L62.78 198.85L62.78 195.55L62.78 192.20L62.79 188.83L62.79 185.45L62.80 182.07L62.80 178.72L62.81 175.40L62.81 172.13L62.81 168.93L62.82 165.80L62.82 162.77L62.83 159.84L62.83 157.03L62.84 154.35L62.84 151.82L62.84 149.43L62.85 147.20L62.85 145.14L62.86 143.26L62.86 141.56L62.87 140.05L62.87 138.74L62.87 137.62L62.88 136.71L62.88 136.00L62.89 135.50L62.89 135.20L62.90 135.11L62.90 135.23L62.90 135.54L62.91 136.06L62.91 136.76L62.92 137.66L62.92 138.74L62.93 140.00L62.93 141.43L62.93 143.02L62.94 144.76L62.94 146.64L62.95 148.66L62.95 150.80L62.96 153.06L62.96 155.41L62.96 157.85L62.97 160.37L62.97 162.96L62.98 165.60L62.98 168.28L62.99 170.99L62.99 173.71L62.99 176.43L63.00 179.15L63.00 181.84L63.01 184.50L63.01 187.11L63.02 189.66L63.02 192.15L63.02 194.56L63.03 196.88L63.03 199.10L63.04 201.21L63.04 203.20L63.05 205.07L63.05 206.81L63.05 208.40L63.06 209.86L63.06 211.16L63.07 212.31L63.07 213.30L63.08 214.12L63.08 214.79L63.08 215.29L63.09 215.62L63.09 215.79L63.10 215.79L63.10 215.63L63.11 215.32L63.11 214.86L63.11 214.25L63.12 213.48L63.12 212.57L63.13 211.51L63.13 210.32L63.14 209.00L63.14 207.56L63.15 206.00L63.15 204.33L63.15 202.57L63.16 200.72L63.16 198.78L63.17 196.78L63.17 194.71L63.18 192.59L63.18 190.44L63.18 188.25L63.19 186.03L63.19 183.81L63.20 181.59L63.20 179.38L63.21 177.18L63.21 175.02L63.21 172.89L63.22 170.81L63.22 168.79L63.23 166.84L63.23 164.96L63.24 163.16L63.24 161.45L63.24 159.84L63.25 158.33L63.25 156.93L63.26 155.65L63.26 154.49L63.27 153.45L63.27 152.54L63.27 151.76L63.28 151.11L63.28 150.60L63.29 150.23L63.29 149.99L63.30 149.89L63.30 149.93L63.30 150.11L63.31 150.41L63.31 150.85L63.32 151.42L63.32 152.11L63.33 152.92L63.33 153.85L63.33 154.89L63.34 156.03L63.34 157.27L63.35 158.61L63.35 160.03L63.36 161.53L63.36 163.10L63.36 164.73L63.37 166.42L63.37 168.16L63.38 169.94L63.38 171.74L63.39 173.57L63.39 175.42L63.39 177.27L63.40 179.11L63.40 180.95L63.41 182.76L63.41 184.55L63.42 186.30L63.42 188.01L63.42 189.67L63.43 191.27L63.43 192.80L63.44 194.26L63.44 195.65L63.45 196.95L63.45 198.17L63.45 199.29L63.46 200.31L63.46 201.24L63.47 202.05L63.47 202.76L63.48 203.36L63.48 203.85L63.48 204.23L63.49 204.49L63.49 204.64L63.50 204.67L63.50 204.59L63.51 204.39L63.51 204.09L63.51 203.68L63.52 203.16L63.52 202.55L63.53 201.83L63.53 201.02L63.54 200.11L63.54 199.13L63.54 198.06L63.55 196.92L63.55 195.71L63.56 194.43L63.56 193.10L63.57 191.72L63.57 190.30L63.57 188.84L63.58 187.35L63.58 185.84L63.59 184.31L63.59 182.78L63.60 181.24L63.60 179.71L63.60 178.19L63.61 176.69L63.61 175.21L63.62 173.77L63.62 172.37L63.63 171.01L63.63 169.70L63.63 168.45L63.64 167.26L63.64 166.14L63.65 165.09L63.65 164.11L63.66 163.21L63.66 162.40L63.66 161.67L63.67 161.03L63.67 160.48L63.68 160.02L63.68 159.65L63.69 159.38L63.69 159.21L63.69 159.13L63.70 159.14L63.70 159.25L63.71 159.45L63.71 159.74L63.72 160.12L63.72 160.59L63.72 161.14L63.73 161.77L63.73 162.48L63.74 163.26L63.74 164.11L63.75 165.02L63.75 166.00L63.75 167.03L63.76 168.11L63.76 169.23L63.77 170.40L63.77 171.59L63.78 172.82L63.78 174.07L63.79 175.33L63.79 176.60L63.79 177.88L63.80 179.16L63.80 180.43L63.81 181.69L63.81 182.92L63.82 184.14L63.82 185.32L63.82 186.47L63.83 187.59L63.83 188.65L63.84 189.67L63.84 190.64L63.85 191.55L63.85 192.39L63.85 193.18L63.86 193.89L63.86 194.54L63.87 195.12L63.87 195.62L63.88 196.04L63.88 196.39L63.88 196.66L63.89 196.85L63.89 196.96L63.90 197.00L63.90 196.95L63.91 196.83L63.91 196.63L63.91 196.35L63.92 196.01L63.92 195.59L63.93 195.10L63.93 194.55L63.94 193.93L63.94 193.26L63.94 192.53L63.95 191.74L63.95 190.91L63.96 190.04L63.96 189.12L63.97 188.17L63.97 187.19L63.97 186.18L63.98 185.16L63.98 184.11L63.99 183.06L63.99 182.00L64.00 180.93L64.00 179.87L64.00 178.82L64.01 177.78L64.01 176.76L64.02 175.76L64.02 174.79L64.03 173.84L64.03 172.94L64.03 172.07L64.04 171.24L64.04 170.45L64.05 169.72L64.05 169.04L64.06 168.41L64.06 167.84L64.06 167.33L64.07 166.87L64.07 166.49L64.08 166.16L64.08 165.90L64.09 165.70L64.09 165.57L64.09 165.51L64.10 165.51L64.10 165.58L64.11 165.71L64.11 165.90L64.12 166.15L64.12 166.47L64.12 166.84L64.13 167.27L64.13 167.75L64.14 168.29L64.14 168.87L64.15 169.50L64.15 170.17L64.15 170.87L64.16 171.62L64.16 172.39L64.17 173.19L64.17 174.02L64.18 174.86L64.18 175.72L64.18 176.59L64.19 177.47L64.19 178.36L64.20 179.24L64.20 180.12L64.21 180.99L64.21 181.85L64.21 182.69L64.22 183.51L64.22 184.31L64.23 185.08L64.23 185.83L64.24 186.54L64.24 187.21L64.24 187.84L64.25 188.43L64.25 188.98L64.26 189.48L64.26 189.94L64.27 190.34L64.27 190.69L64.27 191.00L64.28 191.24L64.28 191.44L64.29 191.58L64.29 191.66L64.30 191.69L64.30 191.67L64.30 191.59L64.31 191.46L64.31 191.27L64.32 191.04L64.32 190.76L64.33 190.43L64.33 190.05L64.33 189.63L64.34 189.17L64.34 188.67L64.35 188.13L64.35 187.56L64.36 186.96L64.36 186.33L64.36 185.68L64.37 185.00L64.37 184.31L64.38 183.60L64.38 182.88L64.39 182.15L64.39 181.42L64.39 180.68L64.40 179.95L64.40 179.22L64.41 178.50L64.41 177.79L64.42 177.10L64.42 176.42L64.42 175.77L64.43 175.13L64.43 174.53L64.44 173.95L64.44 173.41L64.45 172.90L64.45 172.42L64.46 171.98L64.46 171.58L64.46 171.22L64.47 170.90L64.47 170.63L64.48 170.40L64.48 170.21L64.49 170.07L64.49 169.97L64.49 169.92L64.50 169.92L64.50 169.96L64.51 170.04L64.51 170.17L64.52 170.34L64.52 170.55L64.52 170.80L64.53 171.10L64.53 171.42L64.54 171.79L64.54 172.19L64.55 172.62L64.55 173.08L64.55 173.56L64.56 174.07L64.56 174.60L64.57 175.16L64.57 175.72L64.58 176.31L64.58 176.90L64.58 177.50L64.59 178.11L64.59 178.72L64.60 179.33L64.60 179.94L64.61 180.54L64.61 181.14L64.61 181.72L64.62 182.29L64.62 182.85L64.63 183.38L64.63 183.90L64.64 184.39L64.64 184.86L64.64 185.30L64.65 185.72L64.65 186.10L64.66 186.45L64.66 186.77L64.67 187.05L64.67 187.30L64.67 187.52L64.68 187.69L64.68 187.83L64.69 187.93L64.69 188.00L64.70 188.02L64.70 188.01L64.70 187.96L64.71 187.87L64.71 187.75L64.72 187.59L64.72 187.40L64.73 187.18L64.73 186.92L64.73 186.64L64.74 186.32L64.74 185.98L64.75 185.61L64.75 185.22L64.76 184.81L64.76 184.37L64.76 183.92L64.77 183.46L64.77 182.98L64.78 182.49L64.78 181.99L64.79 181.49L64.79 180.98L64.79 180.48L64.80 179.97L64.80 179.46L64.81 178.97L64.81 178.47L64.82 177.99L64.82 177.52L64.82 177.07L64.83 176.63L64.83 176.21L64.84 175.81L64.84 175.43L64.85 175.07L64.85 174.74L64.85 174.43L64.86 174.15L64.86 173.90L64.87 173.67L64.87 173.48L64.88 173.32L64.88 173.18L64.88 173.08L64.89 173.01L64.89 172.97L64.90 172.96L64.90 172.99L64.91 173.04L64.91 173.13L64.91 173.24L64.92 173.38L64.92 173.56L64.93 173.75L64.93 173.98L64.94 174.23L64.94 174.50L64.94 174.79L64.95 175.11L64.95 175.44L64.96 175.79L64.96 176.16L64.97 176.54L64.97 176.93L64.97 177.33L64.98 177.74L64.98 178.16L64.99 178.58L64.99 179.00L65.00 179.42L65.00 179.84L65.00 180.26L65.01 180.67L65.01 181.08L65.02 181.47L65.02 181.86L65.03 182.23L65.03 182.59L65.03 182.93L65.04 183.26L65.04 183.57L65.05 183.86L65.05 184.12L65.06 184.37L65.06 184.59L65.06 184.79L65.07 184.97L65.07 185.12L65.08 185.24L65.08 185.34L65.09 185.41L65.09 185.46L65.10 185.48L65.10 185.48L65.10 185.45L65.11 185.39L65.11 185.31L65.12 185.21L65.12 185.08L65.13 184.92L65.13 184.75L65.13 184.55L65.14 184.34L65.14 184.10L65.15 183.85L65.15 183.58L65.16 183.30L65.16 183.00L65.16 182.69L65.17 182.37L65.17 182.04L65.18 181.71L65.18 181.36L65.19 181.01L65.19 180.66L65.19 180.31L65.20 179.96L65.20 179.61L65.21 179.27L65.21 178.93L65.22 178.59L65.22 178.27L65.22 177.95L65.23 177.65L65.23 177.35L65.24 177.08L65.24 176.81L65.25 176.56L65.25 176.33L65.25 176.11L65.26 175.92L65.26 175.74L65.27 175.58L65.27 175.45L65.28 175.33L65.28 175.24L65.28 175.16L65.29 175.11L65.29 175.08L65.30 175.07L65.30 175.09L65.31 175.12L65.31 175.18L65.31 175.25L65.32 175.35L65.32 175.47L65.33 175.60L65.33 175.75L65.34 175.92L65.34 176.11L65.34 176.31L65.35 176.53L65.35 176.76L65.36 177.00L65.36 177.25L65.37 177.51L65.37 177.78L65.37 178.06L65.38 178.34L65.38 178.63L65.39 178.92L65.39 179.21L65.40 179.50L65.40 179.79L65.40 180.08L65.41 180.37L65.41 180.65L65.42 180.92L65.42 181.19L65.43 181.45L65.43 181.70L65.43 181.94L65.44 182.16L65.44 182.38L65.45 182.58L65.45 182.77L65.46 182.94L65.46 183.09L65.46 183.23L65.47 183.36L65.47 183.46L65.48 183.55L65.48 183.62L65.49 183.68L65.49 183.71L65.49 183.73L65.50 183.73L65.50 183.71L65.51 183.67L65.51 183.62L65.52 183.55L65.52 183.46L65.52 183.36L65.53 183.24L65.53 183.11L65.54 182.96L65.54 182.80L65.55 182.62L65.55 182.44L65.55 182.25L65.56 182.04L65.56 181.83L65.57 181.61L65.57 181.38L65.58 181.15L65.58 180.91L65.58 180.67L65.59 180.43L65.59 180.19L65.60 179.94L65.60 179.70L65.61 179.46L65.61 179.23L65.61 179.00L65.62 178.77L65.62 178.55L65.63 178.34L65.63 178.14L65.64 177.94L65.64 177.76L65.64 177.58L65.65 177.42L65.65 177.27L65.66 177.13L65.66 177.01L65.67 176.90L65.67 176.80L65.67 176.72L65.68 176.65L65.68 176.60L65.69 176.56L65.69 176.54L65.70 176.53L65.70 176.54L65.70 176.56L65.71 176.60L65.71 176.65L65.72 176.71L65.72 176.79L65.73 176.88L65.73 176.99L65.74 177.10L65.74 177.23L65.74 177.37L65.75 177.52L65.75 177.67L65.76 177.84L65.76 178.01L65.77 178.19L65.77 178.38L65.77 178.57L65.78 178.76L65.78 178.96L65.79 179.16L65.79 179.36L65.80 179.57L65.80 179.77L65.80 179.97L65.81 180.17L65.81 180.36L65.82 180.55L65.82 180.74L65.83 180.92L65.83 181.09L65.83 181.26L65.84 181.41L65.84 181.56L65.85 181.70L65.85 181.83L65.86 181.95L65.86 182.06L65.86 182.16L65.87 182.25L65.87 182.32L65.88 182.39L65.88 182.44L65.89 182.48L65.89 182.50L65.89 182.52L65.90 182.52L65.90 182.51L65.91 182.48L65.91 182.45L65.92 182.40L65.92 182.34L65.92 182.27L65.93 182.19L65.93 182.10L65.94 182.00L65.94 181.89L65.95 181.77L65.95 181.64L65.95 181.51L65.96 181.37L65.96 181.22L65.97 181.07L65.97 180.91L65.98 180.75L65.98 180.59L65.98 180.42L65.99 180.26L65.99 180.09L66.00 179.92L66.00 179.75L66.01 179.59L66.01 179.43L66.01 179.26L66.02 179.11L66.02 178.96L66.03 178.81L66.03 178.67L66.04 178.53L66.04 178.40L66.04 178.28L66.05 178.17L66.05 178.06L66.06 177.97L66.06 177.88L66.07 177.80L66.07 177.74L66.07 177.68L66.08 177.63L66.08 177.59L66.09 177.56L66.09 177.55L66.10 177.54L66.10 177.54L66.10 177.56L66.11 177.58L66.11 177.62L66.12 177.66L66.12 177.71L66.13 177.77L66.13 177.85L66.13 177.92L66.14 178.01L66.14 178.11L66.15 178.21L66.15 178.32L66.16 178.43L66.16 178.55L66.16 178.67L66.17 178.80L66.17 178.93L66.18 179.07L66.18 179.20L66.19 179.34L66.19 179.48L66.19 179.62L66.20 179.76L66.20 179.90L66.21 180.04L66.21 180.17L66.22 180.30L66.22 180.43L66.22 180.56L66.23 180.68L66.23 180.79L66.24 180.90L66.24 181.01L66.25 181.10L66.25 181.19L66.25 181.28L66.26 181.36L66.26 181.42L66.27 181.49L66.27 181.54L66.28 181.58L66.28 181.62L66.28 181.65L66.29 181.67L66.29 181.68L66.30 181.68L66.30 181.67L66.31 181.66L66.31 181.63L66.31 181.60L66.32 181.56L66.32 181.51L66.33 181.46L66.33 181.40L66.34 181.33L66.34 181.25L66.34 181.17L66.35 181.09L66.35 180.99L66.36 180.90L66.36 180.80L66.37 180.69L66.37 180.58L66.37 180.47L66.38 180.36L66.38 180.25L66.39 180.13L66.39 180.02L66.40 179.90L66.40 179.78L66.41 179.67L66.41 179.56L66.41 179.44L66.42 179.34L66.42 179.23L66.43 179.13L66.43 179.03L66.44 178.94L66.44 178.85L66.44 178.76L66.45 178.68L66.45 178.61L66.46 178.54L66.46 178.48L66.47 178.43L66.47 178.38L66.47 178.34L66.48 178.30L66.48 178.28L66.49 178.26L66.49 178.24L66.50 178.24L66.50 178.24L66.50 178.25L66.51 178.26L66.51 178.29L66.52 178.32L66.52 178.35L66.53 178.39L66.53 178.44L66.53 178.50L66.54 178.56L66.54 178.62L66.55 178.69L66.55 178.76L66.56 178.84L66.56 178.92L66.56 179.01L66.57 179.10L66.57 179.19L66.58 179.28L66.58 179.37L66.59 179.47L66.59 179.57L66.59 179.66L66.60 179.76L66.60 179.86L66.61 179.95L66.61 180.04L66.62 180.14L66.62 180.22L66.62 180.31L66.63 180.39L66.63 180.48L66.64 180.55L66.64 180.62L66.65 180.69L66.65 180.76L66.65 180.82L66.66 180.87L66.66 180.92L66.67 180.96L66.67 181.00L66.68 181.03L66.68 181.06L66.68 181.08L66.69 181.09L66.69 181.10L66.70 181.10L66.70 181.10L66.71 181.09L66.71 181.07L66.71 181.05L66.72 181.02L66.72 180.99L66.73 180.95L66.73 180.91L66.74 180.86L66.74 180.81L66.74 180.76L66.75 180.70L66.75 180.63L66.76 180.57L66.76 180.50L66.77 180.43L66.77 180.35L66.77 180.28L66.78 180.20L66.78 180.12L66.79 180.04L66.79 179.96L66.80 179.88L66.80 179.80L66.80 179.72L66.81 179.64L66.81 179.56L66.82 179.49L66.82 179.42L66.83 179.34L66.83 179.28L66.83 179.21L66.84 179.15L66.84 179.09L66.85 179.03L66.85 178.98L66.86 178.94L66.86 178.89L66.86 178.85L66.87 178.82L66.87 178.79L66.88 178.77L66.88 178.75L66.89 178.73L66.89 178.72L66.89 178.72L66.90 178.72L66.90 178.73L66.91 178.74L66.91 178.75L66.92 178.77L66.92 178.79L66.92 178.82L66.93 178.86L66.93 178.89L66.94 178.93L66.94 178.98L66.95 179.03L66.95 179.08L66.95 179.13L66.96 179.19L66.96 179.24L66.97 179.31L66.97 179.37L66.98 179.43L66.98 179.50L66.98 179.56L66.99 179.63L66.99 179.70L67.00 179.76L67.00 179.83L67.01 179.90L67.01 179.96L67.01 180.02L67.02 180.09L67.02 180.15L67.03 180.20L67.03 180.26L67.04 180.31L67.04 180.36L67.05 180.41L67.05 180.46L67.05 180.50L67.06 180.53L67.06 180.57L67.07 180.60L67.07 180.63L67.08 180.65L67.08 180.67L67.08 180.68L67.09 180.69L67.09 180.70L67.10 180.70L67.10 180.70L67.11 180.69L67.11 180.68L67.11 180.67L67.12 180.65L67.12 180.63L67.13 180.60L67.13 180.57L67.14 180.54L67.14 180.50L67.14 180.47L67.15 180.43L67.15 180.38L67.16 180.34L67.16 180.29L67.17 180.24L67.17 180.19L67.17 180.14L67.18 180.08L67.18 180.03L67.19 179.97L67.19 179.92L67.20 179.86L67.20 179.81L67.20 179.75L67.21 179.70L67.21 179.64L67.22 179.59L67.22 179.54L67.23 179.49L67.23 179.44L67.23 179.40L67.24 179.35L67.24 179.31L67.25 179.28L67.25 179.24L67.26 179.21L67.26 179.18L67.26 179.15L67.27 179.13L67.27 179.11L67.28 179.09L67.28 179.07L67.29 179.06L67.29 179.06L67.29 179.05L67.30 179.05L67.30 179.06L67.31 179.06L67.31 179.07L67.32 179.09L67.32 179.10L67.32 179.12L67.33 179.14L67.33 179.17L67.34 179.20L67.34 179.23L67.35 179.26L67.35 179.29L67.35 179.33L67.36 179.37L67.36 179.41L67.37 179.45L67.37 179.50L67.38 179.54L67.38 179.58L67.38 179.63L67.39 179.68L67.39 179.72L67.40 179.77L67.40 179.81L67.41 179.86L67.41 179.90L67.41 179.95L67.42 179.99L67.42 180.03L67.43 180.07L67.43 180.11L67.44 180.15L67.44 180.19L67.44 180.22L67.45 180.25L67.45 180.28L67.46 180.30L67.46 180.33L67.47 180.35L67.47 180.37L67.47 180.38L67.48 180.40L67.48 180.41L67.49 180.41L67.49 180.42L67.50 180.42L67.50 180.42L67.50 180.42L67.51 180.41L67.51 180.40L67.52 180.39L67.52 180.37L67.53 180.36L67.53 180.34L67.53 180.31L67.54 180.29L67.54 180.26L67.55 180.24L67.55 180.21L67.56 180.18L67.56 180.14L67.56 180.11L67.57 180.07L67.57 180.04L67.58 180.00L67.58 179.96L67.59 179.92L67.59 179.89L67.59 179.85L67.60 179.81L67.60 179.77L67.61 179.73L67.61 179.70L67.62 179.66L67.62 179.63L67.62 179.59L67.63 179.56L67.63 179.53L67.64 179.50L67.64 179.47L67.65 179.44L67.65 179.42L67.65 179.39L67.66 179.37L67.66 179.35L67.67 179.34L67.67 179.32L67.68 179.31L67.68 179.30L67.69 179.29L67.69 179.29L67.69 179.28L67.70 179.28L67.70 179.29L67.71 179.29L67.71 179.30L67.72 179.31L67.72 179.32L67.72 179.33L67.73 179.34L67.73 179.36L67.74 179.38L67.74 179.40L67.75 179.42L67.75 179.45L67.75 179.47L67.76 179.50L67.76 179.53L67.77 179.56L67.77 179.59L67.78 179.62L67.78 179.65L67.78 179.68L67.79 179.71L67.79 179.74L67.80 179.77L67.80 179.81L67.81 179.84L67.81 179.87L67.81 179.90L67.82 179.93L67.82 179.96L67.83 179.99L67.83 180.01L67.84 180.04L67.84 180.06L67.84 180.09L67.85 180.11L67.85 180.13L67.86 180.15L67.86 180.16L67.87 180.18L67.87 180.19L67.87 180.20L67.88 180.21L67.88 180.22L67.89 180.22L67.89 180.23L67.90 180.23L67.90 180.23L67.90 180.23L67.91 180.22L67.91 180.22L67.92 180.21L67.92 180.20L67.93 180.19L67.93 180.17L67.93 180.16L67.94 180.14L67.94 180.12L67.95 180.10L67.95 180.08L67.96 180.06L67.96 180.04L67.96 180.02L67.97 179.99L67.97 179.97L67.98 179.94L67.98 179.92L67.99 179.89L67.99 179.86L67.99 179.84L68.00 179.81L68.00 179.78L68.01 179.76L68.01 179.73L68.02 179.71L68.02 179.68L68.02 179.66L68.03 179.64L68.03 179.61L68.04 179.59L68.04 179.57L68.05 179.55L68.05 179.54L68.05 179.52L68.06 179.51L68.06 179.49L68.07 179.48L68.07 179.47L68.08 179.46L68.08 179.45L68.08 179.45L68.09 179.45L68.09 179.44L68.10 179.44L68.10 179.44L68.11 179.45L68.11 179.45L68.11 179.46L68.12 179.46L68.12 179.47L68.13 179.48L68.13 179.50L68.14 179.51L68.14 179.52L68.14 179.54L68.15 179.55L68.15 179.57L68.16 179.59L68.16 179.61L68.17 179.63L68.17 179.65L68.17 179.67L68.18 179.69L68.18 179.71L68.19 179.74L68.19 179.76L68.20 179.78L68.20 179.80L68.20 179.82L68.21 179.84L68.21 179.87L68.22 179.89L68.22 179.91L68.23 179.93L68.23 179.94L68.23 179.96L68.24 179.98L68.24 180.00L68.25 180.01L68.25 180.03L68.26 180.04L68.26 180.05L68.26 180.06L68.27 180.07L68.27 180.08L68.28 180.08L68.28 180.09L68.29 180.09L68.29 180.10L68.29 180.10L68.30 180.10L68.30 180.10L68.31 180.09L68.31 180.09L68.32 180.08L68.32 180.08L68.32 180.07L68.33 180.06L68.33 180.05L68.34 180.04L68.34 180.03L68.35 180.01L68.35 180.00L68.36 179.98L68.36 179.97L68.36 179.95L68.37 179.94L68.37 179.92L68.38 179.90L68.38 179.88L68.39 179.86L68.39 179.85L68.39 179.83L68.40 179.81L68.40 179.79L68.41 179.77L68.41 179.76L68.42 179.74L68.42 179.72L68.42 179.70L68.43 179.69L68.43 179.67L68.44 179.66L68.44 179.64L68.45 179.63L68.45 179.62L68.45 179.61L68.46 179.60L68.46 179.59L68.47 179.58L68.47 179.57L68.48 179.57L68.48 179.56L68.48 179.56L68.49 179.56L68.49 179.55L68.50 179.55L68.50 179.55L68.51 179.56L68.51 179.56L68.51 179.56L68.52 179.57L68.52 179.57L68.53 179.58L68.53 179.59L68.54 179.60L68.54 179.61L68.54 179.62L68.55 179.63L68.55 179.64L68.56 179.65L68.56 179.67L68.57 179.68L68.57 179.69L68.57 179.71L68.58 179.72L68.58 179.74L68.59 179.75L68.59 179.77L68.60 179.78L68.60 179.80L68.60 179.81L68.61 179.83L68.61 179.84L68.62 179.86L68.62 179.87L68.63 179.89L68.63 179.90L68.63 179.91L68.64 179.92L68.64 179.93L68.65 179.94L68.65 179.95L68.66 179.96L68.66 179.97L68.66 179.98L68.67 179.99L68.67 179.99L68.68 180.00L68.68 180.00L68.69 180.00L68.69 180.00L68.69 180.01L68.70 180.01L68.70 180.00L68.71 180.00L68.71 180.00L68.72 180.00L68.72 179.99L68.72 179.99L68.73 179.98L68.73 179.97L68.74 179.97L68.74 179.96L68.75 179.95L68.75 179.94L68.75 179.93L68.76 179.92L68.76 179.91L68.77 179.90L68.77 179.88L68.78 179.87L68.78 179.86L68.78 179.85L68.79 179.83L68.79 179.82L68.80 179.81L68.80 179.80L68.81 179.78L68.81 179.77L68.81 179.76L68.82 179.75L68.82 179.74L68.83 179.72L68.83 179.71L68.84 179.70L68.84 179.69L68.84 179.68L68.85 179.68L68.85 179.67L68.86 179.66L68.86 179.65L68.87 179.65L68.87 179.64L68.87 179.64L68.88 179.64L68.88 179.63L68.89 179.63L68.89 179.63L68.90 179.63L68.90 179.63L68.90 179.63L68.91 179.63L68.91 179.64L68.92 179.64L68.92 179.64L68.93 179.65L68.93 179.65L68.93 179.66L68.94 179.67L68.94 179.67L68.95 179.68L68.95 179.69L68.96 179.70L68.96 179.71L68.96 179.72L68.97 179.73L68.97 179.74L68.98 179.75L68.98 179.76L68.99 179.77L68.99 179.78L69.00 179.79L69.00 179.80L69.00 179.81L69.01 179.82L69.01 179.83L69.02 179.84L69.02 179.85L69.03 179.86L69.03 179.87L69.03 179.88L69.04 179.88L69.04 179.89L69.05 179.90L69.05 179.91L69.06 179.91L69.06 179.92L69.06 179.92L69.07 179.93L69.07 179.93L69.08 179.94L69.08 179.94L69.09 179.94L69.09 179.94L69.09 179.94L69.10 179.94L69.10 179.94L69.11 179.94L69.11 179.94L69.12 179.94L69.12 179.93L69.12 179.93L69.13 179.93L69.13 179.92L69.14 179.92L69.14 179.91L69.15 179.90L69.15 179.90L69.15 179.89L69.16 179.88L69.16 179.87L69.17 179.87L69.17 179.86L69.18 179.85L69.18 179.84L69.18 179.83L69.19 179.82L69.19 179.82L69.20 179.81L69.20 179.80L69.21 179.79L69.21 179.78L69.21 179.77L69.22 179.76L69.22 179.76L69.23 179.75L69.23 179.74L69.24 179.73L69.24 179.73L69.24 179.72L69.25 179.72L69.25 179.71L69.26 179.70L69.26 179.70L69.27 179.70L69.27 179.69L69.27 179.69L69.28 179.69L69.28 179.68L69.29 179.68L69.29 179.68L69.30 179.68L69.30 179.68L69.30 179.68L69.31 179.68L69.31 179.69L69.32 179.69L69.32 179.69L69.33 179.69L69.33 179.70L69.33 179.70L69.34 179.71L69.34 179.71L69.35 179.72L69.35 179.72L69.36 179.73L69.36 179.73L69.36 179.74L69.37 179.75L69.37 179.75L69.38 179.76L69.38 179.77L69.39 179.78L69.39 179.78L69.39 179.79L69.40 179.80L69.40 179.80L69.41 179.81L69.41 179.82L69.42 179.83L69.42 179.83L69.42 179.84L69.43 179.85L69.43 179.85L69.44 179.86L69.44 179.86L69.45 179.87L69.45 179.87L69.45 179.88L69.46 179.88L69.46 179.88L69.47 179.89L69.47 179.89L69.48 179.89L69.48 179.89L69.48 179.90L69.49 179.90L69.49 179.90L69.50 179.90L69.50 179.90L69.51 179.90L69.51 179.90L69.51 179.89L69.52 179.89L69.52 179.89L69.53 179.89L69.53 179.88L69.54 179.88L69.54 179.88L69.54 179.87L69.55 179.87L69.55 179.86L69.56 179.86L69.56 179.85L69.57 179.85L69.57 179.84L69.57 179.84L69.58 179.83L69.58 179.82L69.59 179.82L69.59 179.81L69.60 179.81L69.60 179.80L69.60 179.79L69.61 179.79L69.61 179.78L69.62 179.78L69.62 179.77L69.63 179.77L69.63 179.76L69.64 179.76L69.64 179.75L69.64 179.75L69.65 179.74L69.65 179.74L69.66 179.73L69.66 179.73L69.67 179.73L69.67 179.73L69.67 179.72L69.68 179.72L69.68 179.72L69.69 179.72L69.69 179.72L69.70 179.72L69.70 179.72L69.70 179.72L69.71 179.72L69.71 179.72L69.72 179.72L69.72 179.72L69.73 179.73L69.73 179.73L69.73 179.73L69.74 179.73L69.74 179.74L69.75 179.74L69.75 179.75L69.76 179.75L69.76 179.75L69.76 179.76L69.77 179.76L69.77 179.77L69.78 179.77L69.78 179.78L69.79 179.78L69.79 179.79L69.79 179.79L69.80 179.80L69.80 179.80L69.81 179.81L69.81 179.81L69.82 179.82L69.82 179.82L69.82 179.83L69.83 179.83L69.83 179.84L69.84 179.84L69.84 179.84L69.85 179.85L69.85 179.85L69.85 179.85L69.86 179.86L69.86 179.86L69.87 179.86L69.87 179.86L69.88 179.86L69.88 179.87L69.88 179.87L69.89 179.87L69.89 179.87L69.90 179.87L69.90 179.87L69.91 179.87L69.91 179.87L69.91 179.87L69.92 179.86L69.92 179.86L69.93 179.86L69.93 179.86L69.94 179.86L69.94 179.85L69.94 179.85L69.95 179.85L69.95 179.84L69.96 179.84L69.96 179.84L69.97 179.83L69.97 179.83L69.97 179.83L69.98 179.82L69.98 179.82L69.99 179.81L69.99 179.81L70.00 179.80L70.00 179.80L70.00 179.80L70.01 179.79L70.01 179.79L70.02 179.78L70.02 179.78L70.03 179.78L70.03 179.77L70.03 179.77L70.04 179.77L70.04 179.76L70.05 179.76L70.05 179.76L70.06 179.75L70.06 179.75L70.06 179.75L70.07 179.75L70.07 179.75L70.08 179.75L70.08 179.75L70.09 179.74L71.26 179.78L72.43 179.80L73.61 179.80L74.78 179.80L75.96 179.80L77.13 179.80L78.30 179.80L79.48 179.80L80.65 179.80L81.83 179.80L83.00 179.80L84.17 179.80L85.35 179.80L86.52 179.80L87.70 179.80L88.87 179.80L90.04 179.80L91.22 179.80L92.39 179.80L93.57 179.80L94.74 179.80L95.91 179.80L97.09 179.80L98.26 179.80L99.44 179.80L100.61 179.80L101.78 179.80L102.96 179.80L104.13 179.80L105.31 179.80L106.48 179.80L107.65 179.80L108.83 179.80L110.00 179.80L111.17 179.80L112.35 179.80L113.52 179.80L114.70 179.80L115.87 179.80L117.04 179.80L118.22 179.80L119.39 179.80L120.57 179.80L121.74 179.80L122.91 179.80L124.09 179.80L125.26 179.80L126.44 179.80L127.61 179.80L128.78 179.80L129.96 179.80L131.13 179.80L132.31 179.80L133.48 179.80L134.65 179.80L135.83 179.80L137.00 179.80L138.18 179.80L139.35 179.80L140.52 179.80L141.70 179.80L142.87 179.80L144.05 179.80L145.22 179.80L146.39 179.80L147.57 179.80L148.74 179.80L149.92 179.80L151.09 179.80L152.26 179.80L153.44 179.80L154.61 179.80L155.79 179.80L156.96 179.80L158.13 179.80L159.31 179.80L160.48 179.80L161.66 179.80L162.83 179.80L164.00 179.80L165.18 179.80L166.35 179.80L167.53 179.80L168.70 179.80L169.87 179.80L171.05 179.80L172.22 179.80L173.40 179.80L174.57 179.80L175.74 179.80L176.92 179.80L178.09 179.80L179.27 179.80L180.44 179.80L181.61 179.80L182.79 179.80L183.96 179.80L185.14 179.80L186.31 179.80L187.48 179.80L188.66 179.80L189.83 179.80L191.00 179.80L192.18 179.80L193.35 179.80L194.53 179.80L195.70 179.80L196.87 179.80L198.05 179.80L199.22 179.80L200.40 179.80L201.57 179.80L202.74 179.80L203.92 179.80L205.09 179.80L206.27 179.80L207.44 179.80L208.61 179.80L209.79 179.80L210.96 179.80L212.14 179.80L213.31 179.80L214.48 179.80L215.66 179.80L216.83 179.80L218.01 179.80L219.18 179.80L220.35 179.80L221.53 179.80L222.70 179.80L223.88 179.80L225.05 179.80L226.22 179.80L227.40 179.80L228.57 179.80L229.75 179.80L230.92 179.80L232.09 179.80L233.27 179.80L234.44 179.80L235.62 179.80L236.79 179.80L237.96 179.80L239.14 179.80L240.31 179.80L241.49 179.80L242.66 179.80L243.83 179.80L245.01 179.80L246.18 179.80L247.36 179.80L248.53 179.80L249.70 179.80L250.88 179.80L252.05 179.80L253.23 179.80L254.40 179.80L255.57 179.80L256.75 179.80L257.92 179.80L259.10 179.80L260.27 179.80L261.44 179.80L262.62 179.80L263.79 179.80L264.97 179.80L266.14 179.80L267.31 179.80L268.49 179.80L269.66 179.80L270.83 179.80L272.01 179.80L273.18 179.80L274.36 179.80L275.53 179.80L276.70 179.80L277.88 179.80L279.05 179.80L280.23 179.80L281.40 179.80L282.57 179.80L283.75 179.80L284.92 179.80L286.10 179.80L287.27 179.80L288.44 179.80L289.62 179.80L290.79 179.80L291.97 179.80L293.14 179.80L294.31 179.80L295.49 179.80L296.66 179.80L297.84 179.80L299.01 179.80L300.18 179.80L301.36 179.80L302.53 179.80L303.71 179.80L304.88 179.80L306.05 179.80L307.23 179.80L308.40 179.80L309.58 179.80L310.75 179.80L311.92 179.80L313.10 179.80L314.27 179.80L315.45 179.80L316.62 179.80L317.79 179.80L318.97 179.80L320.14 179.80L321.32 179.80L322.49 179.80L323.66 179.80L324.84 179.80L326.01 179.80L327.19 179.80L328.36 179.80L329.53 179.80L330.71 179.80L331.88 179.80L333.06 179.80L334.23 179.80L335.40 179.80L336.58 179.80L337.75 179.80L338.93 179.80L340.10 179.80L341.27 179.80L342.45 179.80L343.62 179.80L344.79 179.80L345.97 179.80L347.14 179.80L348.32 179.80L349.49 179.80L350.66 179.80L351.84 179.80L353.01 179.80L354.19 179.80L355.36 179.80L356.53 179.80L357.71 179.80L358.88 179.80L360.06 179.80L361.23 179.80L362.40 179.80L363.58 179.80L364.75 179.80L365.93 179.80L367.10 179.80L368.27 179.80L369.45 179.80L370.62 179.80L371.80 179.80L372.97 179.80L374.14 179.80L375.32 179.80L376.49 179.80L377.67 179.80L378.84 179.80L380.01 179.80L381.19 179.80L382.36 179.80L383.54 179.80L384.71 179.80L385.88 179.80L387.06 179.80L388.23 179.80L389.41 179.80L390.58 179.80L391.75 179.80L392.93 179.80L394.10 179.80L395.28 179.80L396.45 179.80L397.62 179.80L398.80 179.80L399.97 179.80L401.15 179.80L402.32 179.80L403.49 179.80L404.67 179.80L405.84 179.80L407.02 179.80L408.19 179.80L409.36 179.80L410.54 179.80L411.71 179.80L412.89 179.80L414.06 179.80L415.23 179.80L416.41 179.80L417.58 179.80L418.76 179.80L419.93 179.80L421.10 179.80L422.28 179.80L423.45 179.80L424.62 179.80L425.80 179.80L426.97 179.80L428.15 179.80L429.32 179.80L430.49 179.80L431.67 179.80L432.84 179.80L434.02 179.80L435.19 179.80L436.36 179.80L437.54 179.80L438.71 179.80L439.89 179.80L441.06 179.80L442.23 179.80L443.41 179.80L444.58 179.80L445.76 179.80L446.93 179.80L448.10 179.80L449.28 179.80L450.45 179.80L451.63 179.80L452.80 179.80L453.97 179.80L455.15 179.80L456.32 179.80L457.50 179.80L458.67 179.80L459.84 179.80L461.02 179.80L462.19 179.80L463.37 179.80L464.54 179.80L465.71 179.80L466.89 179.80L468.06 179.80L469.24 179.80L470.41 179.80L471.58 179.80L472.76 179.80L473.93 179.80L475.11 179.80L476.28 179.80L477.45 179.80L478.63 179.80L479.80 179.80L480.98 179.80L482.15 179.80L483.32 179.80L484.50 179.80L485.67 179.80L486.85 179.80L488.02 179.80L489.19 179.80L490.37 179.80L491.54 179.80L492.72 179.80L493.89 179.80L495.06 179.80L496.24 179.80L497.41 179.80L498.59 179.80L499.76 179.80L500.93 179.80L502.11 179.80L503.28 179.80L504.45 179.80L505.63 179.80L506.80 179.80L507.98 179.80L509.15 179.80L510.32 179.80L511.50 179.80L512.67 179.80L513.85 179.80L515.02 179.80L516.19 179.80L517.37 179.80L518.54 179.80L519.72 179.80L520.89 179.80L522.06 179.80L523.24 179.80L524.41 179.80L525.59 179.80L526.76 179.80L527.93 179.80L529.11 179.80L530.28 179.80L531.46 179.80L532.63 179.80L533.80 179.80L534.98 179.80L536.15 179.80L537.33 179.80L538.50 179.80" stroke="#0000ff" stroke-width="1.12" fill="none" stroke-linejoin="round"/>
<path d="M61.75 255.28V360.12" stroke="#0000ff" stroke-width="1.4" fill="none"/>
<g font-family="Liberation Sans, Arial, sans-serif" font-size="14.6" fill="#262626" stroke="#262626" stroke-width="0.2">
<text x="61.00" y="408.8" text-anchor="middle">0</text>
<text x="156.40" y="408.8" text-anchor="middle">10</text>
<text x="251.80" y="408.8" text-anchor="middle">20</text>
<text x="347.20" y="408.8" text-anchor="middle">30</text>
<text x="442.60" y="408.8" text-anchor="middle">40</text>
<text x="538.00" y="408.8" text-anchor="middle">50</text>
<text x="55.5" y="17.21" text-anchor="end">2</text>
<text x="55.5" y="59.15" text-anchor="end">1.5</text>
<text x="55.5" y="101.08" text-anchor="end">1</text>
<text x="55.5" y="143.02" text-anchor="end">0.5</text>
<text x="55.5" y="184.95" text-anchor="end">0</text>
<text x="55.5" y="226.89" text-anchor="end">-0.5</text>
<text x="55.5" y="268.82" text-anchor="end">-1</text>
<text x="55.5" y="310.75" text-anchor="end">-1.5</text>
<text x="55.5" y="352.69" text-anchor="end">-2</text>
<text x="55.5" y="394.62" text-anchor="end">-2.5</text>
</g>
<text x="300" y="429.3" text-anchor="middle" font-family="Liberation Sans, Arial, sans-serif" font-size="15.5" fill="#262626" stroke="#262626" stroke-width="0.2">Time (sec)</text>
<g transform="translate(19.70,234.00) rotate(-90)" font-family="Liberation Serif, serif" fill="#262626" stroke="#262626" stroke-width="0.45">
<text transform="translate(0.249,-0.271) scale(0.9018,0.9395)" font-size="15.5" font-style="italic" vector-effect="non-scaling-stroke">q</text>
<text transform="translate(2.139,1.150) scale(0.9212,1.2000)" font-size="15.5" font-style="normal" vector-effect="non-scaling-stroke">&#168;</text>
<text transform="translate(8.093,1.800) scale(0.5067,0.8842)" font-size="10.85" font-style="normal" vector-effect="non-scaling-stroke">1</text>
<text transform="translate(20.100,-0.004) scale(0.8000,1.1398)" font-size="15.5" font-style="normal" vector-effect="non-scaling-stroke">(</text>
<text transform="translate(25.022,-0.100) scale(1.2456,0.9627)" font-size="15.5" font-style="italic" vector-effect="non-scaling-stroke">m</text>
<text transform="translate(39.500,3.512) scale(1.5059,1.5048)" font-size="15.5" font-style="normal" vector-effect="non-scaling-stroke">/</text>
<text transform="translate(47.376,-0.120) scale(1.2952,0.9600)" font-size="15.5" font-style="italic" vector-effect="non-scaling-stroke">s</text>
<text transform="translate(54.654,-5.700) scale(0.8914,0.9544)" font-size="10.85" font-style="normal" vector-effect="non-scaling-stroke">2</text>
<text transform="translate(61.613,0.019) scale(0.9750,1.1327)" font-size="15.5" font-style="normal" vector-effect="non-scaling-stroke">)</text>
</g>
<rect x="157.40" y="222.60" width="284.30" height="123.50" fill="#fff"/>
<path d="M226.15 222.60V346.10M294.90 222.60V346.10M363.65 222.60V346.10M432.40 222.60V346.10M157.40 334.46H441.70M157.40 306.13H441.70M157.40 277.80H441.70M157.40 249.47H441.70" stroke="#262626" stroke-opacity="0.15" stroke-width="1" fill="none"/>
<clipPath id="ic"><rect x="156.40" y="221.60" width="286.30" height="125.50"/></clipPath>
<g clip-path="url(#ic)">
<path d="M157.40 346.08L157.60 345.94L157.81 345.79L158.01 345.64L158.21 345.49L158.42 345.33L158.62 345.16L158.82 345.00L159.03 344.82L159.23 344.64L159.43 344.46L159.64 344.28L159.84 344.09L160.04 343.89L160.24 343.69L160.45 343.49L160.65 343.28L160.85 343.07L161.06 342.85L161.26 342.63L161.46 342.41L161.67 342.18L161.87 341.95L162.07 341.71L162.28 341.47L162.48 341.23L162.68 340.98L162.89 340.73L163.09 340.47L163.29 340.22L163.50 339.95L163.70 339.69L163.90 339.42L164.11 339.14L164.31 338.87L164.51 338.59L164.72 338.30L164.92 338.01L165.12 337.72L165.32 337.43L165.53 337.13L165.73 336.83L165.93 336.53L166.14 336.22L166.34 335.91L166.54 335.60L166.75 335.28L166.95 334.96L167.15 334.64L167.36 334.32L167.56 333.99L167.76 333.66L167.97 333.33L168.17 332.99L168.37 332.65L168.58 332.31L168.78 331.97L168.98 331.62L169.19 331.27L169.39 330.92L169.59 330.56L169.80 330.21L170.00 329.85L170.20 329.48L170.41 329.12L170.61 328.75L170.81 328.39L171.01 328.02L171.22 327.64L171.42 327.27L171.62 326.89L171.83 326.51L172.03 326.13L172.23 325.75L172.44 325.36L172.64 324.98L172.84 324.59L173.05 324.20L173.25 323.80L173.45 323.41L173.66 323.01L173.86 322.62L174.06 322.22L174.27 321.82L174.47 321.41L174.67 321.01L174.88 320.61L175.08 320.20L175.28 319.79L175.49 319.38L175.69 318.97L175.89 318.56L176.09 318.14L176.30 317.73L176.50 317.31L176.70 316.90L176.91 316.48L177.11 316.06L177.31 315.64L177.52 315.22L177.72 314.80L177.92 314.37L178.13 313.95L178.33 313.52L178.53 313.10L178.74 312.67L178.94 312.24L179.14 311.82L179.35 311.39L179.55 310.96L179.75 310.53L179.96 310.10L180.16 309.67L180.36 309.24L180.57 308.80L180.77 308.37L180.97 307.94L181.17 307.51L181.38 307.07L181.58 306.64L181.78 306.20L181.99 305.77L182.19 305.34L182.39 304.90L182.60 304.47L182.80 304.03L183.00 303.60L183.21 303.16L183.41 302.73L183.61 302.29L183.82 301.86L184.02 301.42L184.22 300.99L184.43 300.56L184.63 300.12L184.83 299.69L185.04 299.25L185.24 298.82L185.44 298.39L185.65 297.96L185.85 297.53L186.05 297.10L186.25 296.66L186.46 296.24L186.66 295.81L186.86 295.38L187.07 294.95L187.27 294.52L187.47 294.10L187.68 293.67L187.88 293.25L188.08 292.82L188.29 292.40L188.49 291.98L188.69 291.56L188.90 291.14L189.10 290.72L189.30 290.30L189.51 289.88L189.71 289.47L189.91 289.05L190.12 288.64L190.32 288.23L190.52 287.82L190.73 287.41L190.93 287.00L191.13 286.59L191.33 286.19L191.54 285.79L191.74 285.38L191.94 284.98L192.15 284.58L192.35 284.19L192.55 283.79L192.76 283.40L192.96 283.01L193.16 282.62L193.37 282.23L193.57 281.84L193.77 281.46L193.98 281.07L194.18 280.69L194.38 280.31L194.59 279.94L194.79 279.56L194.99 279.19L195.20 278.82L195.40 278.45L195.60 278.09L195.81 277.72L196.01 277.36L196.21 277.00L196.42 276.64L196.62 276.29L196.82 275.94L197.02 275.59L197.23 275.24L197.43 274.89L197.63 274.55L197.84 274.21L198.04 273.87L198.24 273.54L198.45 273.20L198.65 272.87L198.85 272.54L199.06 272.21L199.26 271.89L199.46 271.57L199.67 271.25L199.87 270.93L200.07 270.62L200.28 270.30L200.48 269.99L200.68 269.68L200.89 269.38L201.09 269.08L201.29 268.77L201.50 268.48L201.70 268.18L201.90 267.89L202.10 267.60L202.31 267.31L202.51 267.02L202.71 266.74L202.92 266.45L203.12 266.17L203.32 265.90L203.53 265.62L203.73 265.35L203.93 265.08L204.14 264.81L204.34 264.55L204.54 264.29L204.75 264.03L204.95 263.77L205.15 263.51L205.36 263.26L205.56 263.01L205.76 262.76L205.97 262.52L206.17 262.27L206.37 262.03L206.58 261.80L206.78 261.56L206.98 261.33L207.18 261.10L207.39 260.87L207.59 260.64L207.79 260.42L208.00 260.20L208.20 259.98L208.40 259.77L208.61 259.55L208.81 259.34L209.01 259.13L209.22 258.93L209.42 258.73L209.62 258.52L209.83 258.33L210.03 258.13L210.23 257.94L210.44 257.75L210.64 257.56L210.84 257.37L211.05 257.19L211.25 257.01L211.45 256.83L211.66 256.66L211.86 256.49L212.06 256.31L212.26 256.15L212.47 255.98L212.67 255.82L212.87 255.66L213.08 255.50L213.28 255.35L213.48 255.20L213.69 255.05L213.89 254.90L214.09 254.75L214.30 254.61L214.50 254.47L214.70 254.34L214.91 254.20L215.11 254.07L215.31 253.94L215.52 253.82L215.72 253.69L215.92 253.57L216.13 253.45L216.33 253.34L216.53 253.22L216.74 253.11L216.94 253.01L217.14 252.90L217.34 252.80L217.55 252.70L217.75 252.60L217.95 252.51L218.16 252.42L218.36 252.33L218.56 252.24L218.77 252.16L218.97 252.07L219.17 252.00L219.38 251.92L219.58 251.85L219.78 251.78L219.99 251.71L220.19 251.64L220.39 251.58L220.60 251.52L220.80 251.46L221.00 251.41L221.21 251.36L221.41 251.31L221.61 251.26L221.82 251.21L222.02 251.17L222.22 251.13L222.43 251.09L222.63 251.06L222.83 251.02L223.03 250.99L223.24 250.97L223.44 250.94L223.64 250.92L223.85 250.89L224.05 250.88L224.25 250.86L224.46 250.84L224.66 250.83L224.86 250.82L225.07 250.81L225.27 250.81L225.47 250.80L225.68 250.80L225.88 250.80L226.08 250.80L226.29 250.81L226.49 250.82L226.69 250.82L226.90 250.83L227.10 250.85L227.30 250.86L227.51 250.88L227.71 250.90L227.91 250.92L228.11 250.94L228.32 250.96L228.52 250.99L228.72 251.01L228.93 251.04L229.13 251.07L229.33 251.11L229.54 251.14L229.74 251.18L229.94 251.21L230.15 251.25L230.35 251.29L230.55 251.34L230.76 251.38L230.96 251.43L231.16 251.48L231.37 251.52L231.57 251.57L231.77 251.63L231.98 251.68L232.18 251.74L232.38 251.79L232.59 251.85L232.79 251.91L232.99 251.97L233.19 252.03L233.40 252.09L233.60 252.16L233.80 252.23L234.01 252.29L234.21 252.36L234.41 252.43L234.62 252.50L234.82 252.57L235.02 252.65L235.23 252.72L235.43 252.80L235.63 252.88L235.84 252.95L236.04 253.03L236.24 253.11L236.45 253.19L236.65 253.28L236.85 253.36L237.06 253.44L237.26 253.53L237.46 253.62L237.67 253.70L237.87 253.79L238.07 253.88L238.27 253.97L238.48 254.06L238.68 254.15L238.88 254.25L239.09 254.34L239.29 254.43L239.49 254.53L239.70 254.62L239.90 254.72L240.10 254.82L240.31 254.91L240.51 255.01L240.71 255.11L240.92 255.21L241.12 255.31L241.32 255.41L241.53 255.51L241.73 255.61L241.93 255.72L242.14 255.82L242.34 255.92L242.54 256.03L242.75 256.13L242.95 256.24L243.15 256.34L243.35 256.45L243.56 256.55L243.76 256.66L243.96 256.77L244.17 256.87L244.37 256.98L244.57 257.09L244.78 257.20L244.98 257.30L245.18 257.41L245.39 257.52L245.59 257.63L245.79 257.74L246.00 257.85L246.20 257.95L246.40 258.06L246.61 258.17L246.81 258.28L247.01 258.39L247.22 258.50L247.42 258.61L247.62 258.72L247.83 258.83L248.03 258.94L248.23 259.05L248.44 259.16L248.64 259.27L248.84 259.38L249.04 259.48L249.25 259.59L249.45 259.70L249.65 259.81L249.86 259.92L250.06 260.03L250.26 260.14L250.47 260.25L250.67 260.36L250.87 260.47L251.08 260.58L251.28 260.68L251.48 260.79L251.69 260.90L251.89 261.01L252.09 261.12L252.30 261.23L252.50 261.33L252.70 261.44L252.91 261.55L253.11 261.66L253.31 261.77L253.52 261.87L253.72 261.98L253.92 262.09L254.12 262.20L254.33 262.30L254.53 262.41L254.73 262.52L254.94 262.62L255.14 262.73L255.34 262.83L255.55 262.94L255.75 263.05L255.95 263.15L256.16 263.26L256.36 263.36L256.56 263.47L256.77 263.57L256.97 263.68L257.17 263.78L257.38 263.88L257.58 263.99L257.78 264.09L257.99 264.19L258.19 264.30L258.39 264.40L258.60 264.50L258.80 264.60L259.00 264.71L259.20 264.81L259.41 264.91L259.61 265.01L259.81 265.11L260.02 265.21L260.22 265.31L260.42 265.41L260.63 265.51L260.83 265.61L261.03 265.71L261.24 265.81L261.44 265.90L261.64 266.00L261.85 266.10L262.05 266.20L262.25 266.29L262.46 266.39L262.66 266.48L262.86 266.58L263.07 266.67L263.27 266.77L263.47 266.86L263.68 266.96L263.88 267.05L264.08 267.14L264.28 267.24L264.49 267.33L264.69 267.42L264.89 267.51L265.10 267.60L265.30 267.69L265.50 267.78L265.71 267.87L265.91 267.96L266.11 268.05L266.32 268.14L266.52 268.22L266.72 268.31L266.93 268.40L267.13 268.48L267.33 268.57L267.54 268.65L267.74 268.74L267.94 268.82L268.15 268.90L268.35 268.99L268.55 269.07L268.76 269.15L268.96 269.23L269.16 269.31L269.36 269.39L269.57 269.47L269.77 269.55L269.97 269.63L270.18 269.71L270.38 269.78L270.58 269.86L270.79 269.94L270.99 270.01L271.19 270.09L271.40 270.16L271.60 270.23L271.80 270.31L272.01 270.38L272.21 270.45L272.41 270.52L272.62 270.59L272.82 270.66L273.02 270.73L273.23 270.80L273.43 270.87L273.63 270.93L273.84 271.00L274.04 271.07L274.24 271.13L274.45 271.20L274.65 271.26L274.85 271.32L275.05 271.38L275.26 271.44L275.46 271.51L275.66 271.57L275.87 271.62L276.07 271.68L276.27 271.74L276.48 271.80L276.68 271.85L276.88 271.91L277.09 271.96L277.29 272.02L277.49 272.07L277.70 272.13L277.90 272.18L278.10 272.23L278.31 272.28L278.51 272.33L278.71 272.38L278.92 272.43L279.12 272.48L279.32 272.53L279.53 272.57L279.73 272.62L279.93 272.67L280.13 272.71L280.34 272.76L280.54 272.80L280.74 272.84L280.95 272.89L281.15 272.93L281.35 272.97L281.56 273.01L281.76 273.05L281.96 273.09L282.17 273.13L282.37 273.17L282.57 273.21L282.78 273.25L282.98 273.28L283.18 273.32L283.39 273.36L283.59 273.39L283.79 273.43L284.00 273.46L284.20 273.49L284.40 273.53L284.61 273.56L284.81 273.59L285.01 273.62L285.21 273.66L285.42 273.69L285.62 273.72L285.82 273.75L286.03 273.78L286.23 273.81L286.43 273.83L286.64 273.86L286.84 273.89L287.04 273.92L287.25 273.94L287.45 273.97L287.65 273.99L287.86 274.02L288.06 274.04L288.26 274.07L288.47 274.09L288.67 274.12L288.87 274.14L289.08 274.16L289.28 274.18L289.48 274.21L289.69 274.23L289.89 274.25L290.09 274.27L290.29 274.29L290.50 274.31L290.70 274.33L290.90 274.35L291.11 274.37L291.31 274.38L291.51 274.40L291.72 274.42L291.92 274.44L292.12 274.45L292.33 274.47L292.53 274.49L292.73 274.50L292.94 274.52L293.14 274.53L293.34 274.55L293.55 274.56L293.75 274.58L293.95 274.59L294.16 274.60L294.36 274.62L294.56 274.63L294.77 274.64L294.97 274.65L295.17 274.67L295.37 274.68L295.58 274.69L295.78 274.70L295.98 274.71L296.19 274.72L296.39 274.73L296.59 274.74L296.80 274.75L297.00 274.76L297.20 274.77L297.41 274.78L297.61 274.79L297.81 274.80L298.02 274.81L298.22 274.82L298.42 274.83L298.63 274.83L298.83 274.84L299.03 274.85L299.24 274.86L299.44 274.86L299.64 274.87L299.85 274.88L300.05 274.88L300.25 274.89L300.46 274.90L300.66 274.90L300.86 274.91L301.06 274.91L301.27 274.92L301.47 274.92L301.67 274.93L301.88 274.94L302.08 274.94L302.28 274.95L302.49 274.95L302.69 274.95L302.89 274.96L303.10 274.96L303.30 274.97L303.50 274.97L303.71 274.98L303.91 274.98L304.11 274.98L304.32 274.99L304.52 274.99L304.72 274.99L304.93 275.00L305.13 275.00L305.33 275.00L305.54 275.00L305.74 275.01L305.94 275.01L306.14 275.01L306.35 275.01L306.55 275.02L306.75 275.02L306.96 275.02L307.16 275.02L307.36 275.02L307.57 275.02L307.77 275.03L307.97 275.03L308.18 275.03L308.38 275.03L308.58 275.03L308.79 275.03L308.99 275.03L309.19 275.03L309.40 275.03L309.60 275.03L309.80 275.03L310.01 275.03L310.21 275.03L310.41 275.03L310.62 275.03L310.82 275.03L311.02 275.03L311.22 275.03L311.43 275.03L311.63 275.03L311.83 275.03L312.04 275.03L312.24 275.02L312.44 275.02L312.65 275.02L312.85 275.02L313.05 275.02L313.26 275.02L313.46 275.02L313.66 275.01L313.87 275.01L314.07 275.01L314.27 275.01L314.48 275.01L314.68 275.00L314.88 275.00L315.09 275.00L315.29 275.00L315.49 274.99L315.70 274.99L315.90 274.99L316.10 274.98L316.30 274.98L316.51 274.98L316.71 274.97L316.91 274.97L317.12 274.97L317.32 274.96L317.52 274.96L317.73 274.96L317.93 274.95L318.13 274.95L318.34 274.95L318.54 274.94L318.74 274.94L318.95 274.93L319.15 274.93L319.35 274.93L319.56 274.92L319.76 274.92L319.96 274.91L320.17 274.91L320.37 274.90L320.57 274.90L320.78 274.90L320.98 274.89L321.18 274.89L321.38 274.88L321.59 274.88L321.79 274.87L321.99 274.87L322.20 274.86L322.40 274.86L322.60 274.85L322.81 274.85L323.01 274.84L323.21 274.84L323.42 274.83L323.62 274.82L323.82 274.82L324.03 274.81L324.23 274.81L324.43 274.80L324.64 274.80L324.84 274.79L325.04 274.78L325.25 274.78L325.45 274.77L325.65 274.77L325.86 274.76L326.06 274.76L326.26 274.75L326.47 274.74L326.67 274.74L326.87 274.73L327.07 274.72L327.28 274.72L327.48 274.71L327.68 274.71L327.89 274.70L328.09 274.69L328.29 274.69L328.50 274.68L328.70 274.67L328.90 274.67L329.11 274.66L329.31 274.65L329.51 274.65L329.72 274.64L329.92 274.63L330.12 274.63L330.33 274.62L330.53 274.61L330.73 274.61L330.94 274.60L331.14 274.59L331.34 274.59L331.55 274.58L331.75 274.57L331.95 274.57L332.15 274.56L332.36 274.55L332.56 274.55L332.76 274.54L332.97 274.53L333.17 274.53L333.37 274.52L333.58 274.51L333.78 274.51L333.98 274.50L334.19 274.49L334.39 274.48L334.59 274.48L334.80 274.47L335.00 274.46L335.20 274.46L335.41 274.45L335.61 274.44L335.81 274.44L336.02 274.43L336.22 274.42L336.42 274.42L336.63 274.41L336.83 274.40L337.03 274.39L337.23 274.39L337.44 274.38L337.64 274.37L337.84 274.37L338.05 274.36L338.25 274.35L338.45 274.35L338.66 274.34L338.86 274.33L339.06 274.33L339.27 274.32L339.47 274.31L339.67 274.31L339.88 274.30L340.08 274.29L340.28 274.29L340.49 274.28L340.69 274.27L340.89 274.27L341.10 274.26L341.30 274.25L341.50 274.25L341.71 274.24L341.91 274.23L342.11 274.23L342.31 274.22L342.52 274.21L342.72 274.21L342.92 274.20L343.13 274.20L343.33 274.19L343.53 274.18L343.74 274.18L343.94 274.17L344.14 274.16L344.35 274.16L344.55 274.15L344.75 274.15L344.96 274.14L345.16 274.13L345.36 274.13L345.57 274.12L345.77 274.12L345.97 274.11L346.18 274.11L346.38 274.10L346.58 274.09L346.79 274.09L346.99 274.08L347.19 274.08L347.39 274.07L347.60 274.07L347.80 274.06L348.00 274.06L348.21 274.05L348.41 274.05L348.61 274.04L348.82 274.04L349.02 274.03L349.22 274.03L349.43 274.02L349.63 274.02L349.83 274.01L350.04 274.01L350.24 274.00L350.44 274.00L350.65 274.00L350.85 273.99L351.05 273.99L351.26 273.98L351.46 273.98L351.66 273.97L351.87 273.97L352.07 273.97L352.27 273.96L352.48 273.96L352.68 273.96L352.88 273.95L353.08 273.95L353.29 273.94L353.49 273.94L353.69 273.94L353.90 273.94L354.10 273.93L354.30 273.93L354.51 273.93L354.71 273.92L354.91 273.92L355.12 273.92L355.32 273.92L355.52 273.91L355.73 273.91L355.93 273.91L356.13 273.91L356.34 273.90L356.54 273.90L356.74 273.90L356.95 273.90L357.15 273.90L357.35 273.89L357.56 273.89L357.76 273.89L357.96 273.89L358.16 273.89L358.37 273.89L358.57 273.89L358.77 273.89L358.98 273.88L359.18 273.88L359.38 273.88L359.59 273.88L359.79 273.88L359.99 273.88L360.20 273.88L360.40 273.88L360.60 273.88L360.81 273.88L361.01 273.88L361.21 273.88L361.42 273.88L361.62 273.88L361.82 273.88L362.03 273.88L362.23 273.89L362.43 273.89L362.64 273.89L362.84 273.89L363.04 273.89L363.24 273.89L363.45 273.89L363.65 273.89L363.85 273.90L364.06 273.90L364.26 273.90L364.46 273.90L364.67 273.91L364.87 273.91L365.07 273.91L365.28 273.91L365.48 273.92L365.68 273.92L365.89 273.92L366.09 273.93L366.29 273.93L366.50 273.93L366.70 273.94L366.90 273.94L367.11 273.94L367.31 273.95L367.51 273.95L367.72 273.96L367.92 273.96L368.12 273.97L368.32 273.97L368.53 273.98L368.73 273.98L368.93 273.99L369.14 273.99L369.34 274.00L369.54 274.00L369.75 274.01L369.95 274.02L370.15 274.02L370.36 274.03L370.56 274.04L370.76 274.04L370.97 274.05L371.17 274.06L371.37 274.06L371.58 274.07L371.78 274.08L371.98 274.09L372.19 274.09L372.39 274.10L372.59 274.11L372.80 274.12L373.00 274.13L373.20 274.13L373.40 274.14L373.61 274.15L373.81 274.16L374.01 274.17L374.22 274.18L374.42 274.19L374.62 274.20L374.83 274.21L375.03 274.22L375.23 274.23L375.44 274.24L375.64 274.25L375.84 274.26L376.05 274.27L376.25 274.28L376.45 274.29L376.66 274.30L376.86 274.31L377.06 274.32L377.27 274.33L377.47 274.34L377.67 274.35L377.88 274.37L378.08 274.38L378.28 274.39L378.49 274.40L378.69 274.41L378.89 274.43L379.09 274.44L379.30 274.45L379.50 274.46L379.70 274.47L379.91 274.49L380.11 274.50L380.31 274.51L380.52 274.53L380.72 274.54L380.92 274.55L381.13 274.56L381.33 274.58L381.53 274.59L381.74 274.60L381.94 274.62L382.14 274.63L382.35 274.65L382.55 274.66L382.75 274.67L382.96 274.69L383.16 274.70L383.36 274.72L383.57 274.73L383.77 274.74L383.97 274.76L384.17 274.77L384.38 274.79L384.58 274.80L384.78 274.82L384.99 274.83L385.19 274.85L385.39 274.86L385.60 274.88L385.80 274.89L386.00 274.91L386.21 274.92L386.41 274.94L386.61 274.95L386.82 274.97L387.02 274.98L387.22 275.00L387.43 275.02L387.63 275.03L387.83 275.05L388.04 275.06L388.24 275.08L388.44 275.10L388.65 275.11L388.85 275.13L389.05 275.14L389.25 275.16L389.46 275.18L389.66 275.19L389.86 275.21L390.07 275.22L390.27 275.24L390.47 275.26L390.68 275.27L390.88 275.29L391.08 275.31L391.29 275.32L391.49 275.34L391.69 275.36L391.90 275.37L392.10 275.39L392.30 275.41L392.51 275.42L392.71 275.44L392.91 275.46L393.12 275.47L393.32 275.49L393.52 275.51L393.73 275.53L393.93 275.54L394.13 275.56L394.33 275.58L394.54 275.59L394.74 275.61L394.94 275.63L395.15 275.64L395.35 275.66L395.55 275.68L395.76 275.70L395.96 275.71L396.16 275.73L396.37 275.75L396.57 275.76L396.77 275.78L396.98 275.80L397.18 275.82L397.38 275.83L397.59 275.85L397.79 275.87L397.99 275.89L398.20 275.90L398.40 275.92L398.60 275.94L398.81 275.95L399.01 275.97L399.21 275.99L399.41 276.01L399.62 276.02L399.82 276.04L400.02 276.06L400.23 276.07L400.43 276.09L400.63 276.11L400.84 276.13L401.04 276.14L401.24 276.16L401.45 276.18L401.65 276.19L401.85 276.21L402.06 276.23L402.26 276.24L402.46 276.26L402.67 276.28L402.87 276.30L403.07 276.31L403.28 276.33L403.48 276.35L403.68 276.36L403.89 276.38L404.09 276.40L404.29 276.41L404.50 276.43L404.70 276.45L404.90 276.46L405.10 276.48L405.31 276.49L405.51 276.51L405.71 276.53L405.92 276.54L406.12 276.56L406.32 276.58L406.53 276.59L406.73 276.61L406.93 276.62L407.14 276.64L407.34 276.66L407.54 276.67L407.75 276.69L407.95 276.70L408.15 276.72L408.36 276.74L408.56 276.75L408.76 276.77L408.97 276.78L409.17 276.80L409.37 276.81L409.58 276.83L409.78 276.84L409.98 276.86L410.18 276.87L410.39 276.89L410.59 276.90L410.79 276.92L411.00 276.93L411.20 276.95L411.40 276.96L411.61 276.98L411.81 276.99L412.01 277.00L412.22 277.02L412.42 277.03L412.62 277.04L412.83 277.05L413.03 277.07L413.23 277.08L413.44 277.09L413.64 277.10L413.84 277.11L414.05 277.12L414.25 277.14L414.45 277.15L414.66 277.16L414.86 277.17L415.06 277.18L415.26 277.19L415.47 277.20L415.67 277.21L415.87 277.22L416.08 277.23L416.28 277.24L416.48 277.25L416.69 277.26L416.89 277.27L417.09 277.28L417.30 277.29L417.50 277.30L417.70 277.31L417.91 277.32L418.11 277.33L418.31 277.34L418.52 277.35L418.72 277.35L418.92 277.36L419.13 277.37L419.33 277.38L419.53 277.39L419.74 277.39L419.94 277.40L420.14 277.41L420.34 277.42L420.55 277.42L420.75 277.43L420.95 277.44L421.16 277.44L421.36 277.45L421.56 277.46L421.77 277.46L421.97 277.47L422.17 277.47L422.38 277.48L422.58 277.49L422.78 277.49L422.99 277.50L423.19 277.50L423.39 277.51L423.60 277.51L423.80 277.51L424.00 277.52L424.21 277.52L424.41 277.53L424.61 277.53L424.82 277.53L425.02 277.54L425.22 277.54L425.42 277.55L425.63 277.55L425.83 277.55L426.03 277.56L426.24 277.56L426.44 277.56L426.64 277.56L426.85 277.57L427.05 277.57L427.25 277.57L427.46 277.57L427.66 277.58L427.86 277.58L428.07 277.58L428.27 277.58L428.47 277.58L428.68 277.59L428.88 277.59L429.08 277.59L429.29 277.59L429.49 277.59L429.69 277.59L429.90 277.59L430.10 277.60L430.30 277.60L430.51 277.60L430.71 277.60L430.91 277.60L431.11 277.60L431.32 277.60L431.52 277.60L431.72 277.60L431.93 277.61L432.13 277.61L432.33 277.61L432.54 277.61L432.74 277.61L432.94 277.61L433.15 277.61L433.35 277.61L433.55 277.61L433.76 277.62L433.96 277.62L434.16 277.62L434.37 277.62L434.57 277.62L434.77 277.62L434.98 277.62L435.18 277.63L435.38 277.63L435.59 277.63L435.79 277.63L435.99 277.63L436.19 277.64L436.40 277.64L436.60 277.64L436.80 277.64L437.01 277.65L437.21 277.65L437.41 277.65L437.62 277.65L437.82 277.66L438.02 277.66L438.23 277.67L438.43 277.67L438.63 277.67L438.84 277.68L439.04 277.68L439.24 277.69L439.45 277.69L439.65 277.70L439.85 277.70L440.06 277.71L440.26 277.71L440.46 277.72L440.67 277.72L440.87 277.73L441.07 277.74L441.27 277.74L441.48 277.75L441.68 277.75" stroke="#ff0000" stroke-width="1.4" fill="none" stroke-linejoin="round"/>
<path d="M157.40 346.08L157.60 345.39L157.81 344.19L158.01 342.49L158.21 340.29L158.42 337.64L158.62 334.55L158.82 331.05L159.03 327.17L159.23 322.96L159.43 318.44L159.64 313.66L159.84 308.66L160.04 303.48L160.24 298.16L160.45 292.74L160.65 287.27L160.85 281.79L161.06 276.35L161.26 270.99L161.46 265.74L161.67 260.65L161.87 255.76L162.07 251.10L162.28 246.71L162.48 242.61L162.68 238.83L162.89 235.41L163.09 232.36L163.29 229.71L163.50 227.46L163.70 225.63L163.90 224.24L164.11 223.28L164.31 222.76L164.51 222.68L164.72 223.03L164.92 223.80L165.12 224.99L165.32 226.57L165.53 228.54L165.73 230.87L165.93 233.54L166.14 236.53L166.34 239.80L166.54 243.33L166.75 247.08L166.95 251.04L167.15 255.15L167.36 259.39L167.56 263.72L167.76 268.11L167.97 272.53L168.17 276.93L168.37 281.29L168.58 285.56L168.78 289.73L168.98 293.74L169.19 297.59L169.39 301.23L169.59 304.65L169.80 307.82L170.00 310.71L170.20 313.31L170.41 315.60L170.61 317.56L170.81 319.19L171.01 320.48L171.22 321.42L171.42 322.00L171.62 322.23L171.83 322.11L172.03 321.65L172.23 320.84L172.44 319.71L172.64 318.27L172.84 316.52L173.05 314.50L173.25 312.21L173.45 309.68L173.66 306.93L173.86 303.98L174.06 300.87L174.27 297.61L174.47 294.24L174.67 290.78L174.88 287.26L175.08 283.70L175.28 280.15L175.49 276.62L175.69 273.14L175.89 269.74L176.09 266.44L176.30 263.28L176.50 260.26L176.70 257.42L176.91 254.77L177.11 252.34L177.31 250.13L177.52 248.17L177.72 246.47L177.92 245.02L178.13 243.86L178.33 242.97L178.53 242.37L178.74 242.05L178.94 242.02L179.14 242.26L179.35 242.78L179.55 243.57L179.75 244.62L179.96 245.91L180.16 247.44L180.36 249.19L180.57 251.14L180.77 253.28L180.97 255.58L181.17 258.03L181.38 260.60L181.58 263.28L181.78 266.04L181.99 268.86L182.19 271.71L182.39 274.57L182.60 277.43L182.80 280.26L183.00 283.03L183.21 285.73L183.41 288.33L183.61 290.82L183.82 293.17L184.02 295.38L184.22 297.42L184.43 299.29L184.63 300.96L184.83 302.44L185.04 303.70L185.24 304.74L185.44 305.56L185.65 306.15L185.85 306.52L186.05 306.65L186.25 306.56L186.46 306.24L186.66 305.70L186.86 304.95L187.07 304.00L187.27 302.86L187.47 301.53L187.68 300.03L187.88 298.38L188.08 296.58L188.29 294.66L188.49 292.63L188.69 290.51L188.90 288.32L189.10 286.07L189.30 283.78L189.51 281.47L189.71 279.17L189.91 276.88L190.12 274.62L190.32 272.42L190.52 270.28L190.73 268.23L190.93 266.28L191.13 264.45L191.33 262.74L191.54 261.17L191.74 259.74L191.94 258.48L192.15 257.38L192.35 256.46L192.55 255.72L192.76 255.15L192.96 254.77L193.16 254.58L193.37 254.57L193.57 254.74L193.77 255.09L193.98 255.62L194.18 256.31L194.38 257.16L194.59 258.16L194.79 259.31L194.99 260.58L195.20 261.98L195.40 263.48L195.60 265.08L195.81 266.75L196.01 268.49L196.21 270.29L196.42 272.12L196.62 273.97L196.82 275.83L197.02 277.69L197.23 279.52L197.43 281.32L197.63 283.06L197.84 284.75L198.04 286.36L198.24 287.88L198.45 289.31L198.65 290.63L198.85 291.83L199.06 292.91L199.26 293.86L199.46 294.67L199.67 295.33L199.87 295.86L200.07 296.23L200.28 296.46L200.48 296.53L200.68 296.46L200.89 296.25L201.09 295.89L201.29 295.39L201.50 294.77L201.70 294.01L201.90 293.14L202.10 292.16L202.31 291.08L202.51 289.91L202.71 288.66L202.92 287.34L203.12 285.96L203.32 284.53L203.53 283.07L203.73 281.58L203.93 280.08L204.14 278.58L204.34 277.10L204.54 275.64L204.75 274.21L204.95 272.83L205.15 271.50L205.36 270.24L205.56 269.05L205.76 267.95L205.97 266.93L206.17 266.02L206.37 265.20L206.58 264.50L206.78 263.91L206.98 263.43L207.18 263.07L207.39 262.84L207.59 262.72L207.79 262.72L208.00 262.84L208.20 263.08L208.40 263.42L208.61 263.88L208.81 264.44L209.01 265.10L209.22 265.85L209.42 266.68L209.62 267.59L209.83 268.57L210.03 269.61L210.23 270.70L210.44 271.84L210.64 273.00L210.84 274.19L211.05 275.40L211.25 276.61L211.45 277.81L211.66 279.00L211.86 280.16L212.06 281.29L212.26 282.39L212.47 283.43L212.67 284.41L212.87 285.33L213.08 286.19L213.28 286.96L213.48 287.66L213.69 288.26L213.89 288.78L214.09 289.21L214.30 289.54L214.50 289.78L214.70 289.92L214.91 289.96L215.11 289.91L215.31 289.77L215.52 289.54L215.72 289.23L215.92 288.82L216.13 288.34L216.33 287.77L216.53 287.14L216.74 286.43L216.94 285.67L217.14 284.85L217.34 283.99L217.55 283.09L217.75 282.15L217.95 281.20L218.16 280.22L218.36 279.23L218.56 278.25L218.77 277.27L218.97 276.31L219.17 275.36L219.38 274.45L219.58 273.57L219.78 272.73L219.99 271.95L220.19 271.21L220.39 270.54L220.60 269.93L220.80 269.38L221.00 268.91L221.21 268.51L221.41 268.19L221.61 267.95L221.82 267.79L222.02 267.71L222.22 267.71L222.43 267.78L222.63 267.94L222.83 268.17L223.03 268.47L223.24 268.84L223.44 269.28L223.64 269.78L223.85 270.34L224.05 270.95L224.25 271.61L224.46 272.31L224.66 273.05L224.86 273.81L225.07 274.60L225.27 275.41L225.47 276.23L225.68 277.05L225.88 277.86L226.08 278.67L226.29 279.46L226.49 280.24L226.69 280.98L226.90 281.69L227.10 282.37L227.30 283.00L227.51 283.58L227.71 284.12L227.91 284.60L228.11 285.02L228.32 285.38L228.52 285.67L228.72 285.90L228.93 286.07L229.13 286.17L229.33 286.20L229.54 286.17L229.74 286.07L229.94 285.91L230.15 285.68L230.35 285.40L230.55 285.06L230.76 284.67L230.96 284.22L231.16 283.73L231.37 283.20L231.57 282.64L231.77 282.04L231.98 281.41L232.18 280.77L232.38 280.10L232.59 279.43L232.79 278.75L232.99 278.06L233.19 277.39L233.40 276.72L233.60 276.07L233.80 275.44L234.01 274.83L234.21 274.26L234.41 273.72L234.62 273.21L234.82 272.75L235.02 272.33L235.23 271.96L235.43 271.63L235.63 271.36L235.84 271.14L236.04 270.98L236.24 270.87L236.45 270.82L236.65 270.82L236.85 270.88L237.06 270.99L237.26 271.15L237.46 271.37L237.67 271.63L237.87 271.93L238.07 272.28L238.27 272.67L238.48 273.10L238.68 273.55L238.88 274.04L239.09 274.55L239.29 275.08L239.49 275.63L239.70 276.19L239.90 276.75L240.10 277.32L240.31 277.88L240.51 278.44L240.71 278.99L240.92 279.52L241.12 280.03L241.32 280.53L241.53 280.99L241.73 281.42L241.93 281.83L242.14 282.19L242.34 282.52L242.54 282.81L242.75 283.05L242.95 283.26L243.15 283.41L243.35 283.52L243.56 283.59L243.76 283.61L243.96 283.58L244.17 283.51L244.37 283.40L244.57 283.24L244.78 283.04L244.98 282.80L245.18 282.53L245.39 282.22L245.59 281.88L245.79 281.51L246.00 281.12L246.20 280.70L246.40 280.27L246.61 279.82L246.81 279.36L247.01 278.89L247.22 278.42L247.42 277.95L247.62 277.48L247.83 277.02L248.03 276.57L248.23 276.14L248.44 275.72L248.64 275.32L248.84 274.95L249.04 274.60L249.25 274.29L249.45 274.00L249.65 273.74L249.86 273.52L250.06 273.34L250.26 273.19L250.47 273.08L250.67 273.01L250.87 272.97L251.08 272.98L251.28 273.02L251.48 273.10L251.69 273.21L251.89 273.36L252.09 273.54L252.30 273.76L252.50 274.00L252.70 274.27L252.91 274.57L253.11 274.89L253.31 275.22L253.52 275.58L253.72 275.95L253.92 276.32L254.12 276.71L254.33 277.10L254.53 277.49L254.73 277.88L254.94 278.27L255.14 278.65L255.34 279.01L255.55 279.37L255.75 279.71L255.95 280.03L256.16 280.33L256.36 280.60L256.56 280.85L256.77 281.08L256.97 281.28L257.17 281.44L257.38 281.58L257.58 281.69L257.78 281.76L257.99 281.80L258.19 281.82L258.39 281.80L258.60 281.74L258.80 281.66L259.00 281.55L259.20 281.41L259.41 281.25L259.61 281.05L259.81 280.84L260.02 280.60L260.22 280.35L260.42 280.07L260.63 279.79L260.83 279.49L261.03 279.17L261.24 278.86L261.44 278.53L261.64 278.21L261.85 277.88L262.05 277.56L262.25 277.24L262.46 276.93L262.66 276.63L262.86 276.34L263.07 276.07L263.27 275.81L263.47 275.57L263.68 275.36L263.88 275.16L264.08 274.98L264.28 274.83L264.49 274.71L264.69 274.61L264.89 274.53L265.10 274.48L265.30 274.46L265.50 274.47L265.71 274.50L265.91 274.55L266.11 274.63L266.32 274.74L266.52 274.87L266.72 275.02L266.93 275.19L267.13 275.38L267.33 275.58L267.54 275.80L267.74 276.04L267.94 276.28L268.15 276.54L268.35 276.80L268.55 277.07L268.76 277.34L268.96 277.61L269.16 277.88L269.36 278.14L269.57 278.40L269.77 278.66L269.97 278.90L270.18 279.13L270.38 279.35L270.58 279.56L270.79 279.75L270.99 279.92L271.19 280.08L271.40 280.21L271.60 280.33L271.80 280.42L272.01 280.49L272.21 280.54L272.41 280.57L272.62 280.58L272.82 280.56L273.02 280.52L273.23 280.47L273.43 280.39L273.63 280.29L273.84 280.17L274.04 280.04L274.24 279.89L274.45 279.73L274.65 279.55L274.85 279.36L275.05 279.16L275.26 278.95L275.46 278.74L275.66 278.51L275.87 278.29L276.07 278.07L276.27 277.84L276.48 277.62L276.68 277.40L276.88 277.18L277.09 276.98L277.29 276.78L277.49 276.59L277.70 276.41L277.90 276.25L278.10 276.10L278.31 275.96L278.51 275.84L278.71 275.74L278.92 275.66L279.12 275.59L279.32 275.54L279.53 275.51L279.73 275.49L279.93 275.50L280.13 275.52L280.34 275.56L280.54 275.62L280.74 275.69L280.95 275.78L281.15 275.88L281.35 276.00L281.56 276.13L281.76 276.28L281.96 276.43L282.17 276.59L282.37 276.76L282.57 276.94L282.78 277.12L282.98 277.30L283.18 277.49L283.39 277.68L283.59 277.87L283.79 278.05L284.00 278.23L284.20 278.40L284.40 278.57L284.61 278.73L284.81 278.88L285.01 279.03L285.21 279.16L285.42 279.28L285.62 279.38L285.82 279.47L286.03 279.55L286.23 279.62L286.43 279.66L286.64 279.70L286.84 279.72L287.04 279.72L287.25 279.71L287.45 279.68L287.65 279.64L287.86 279.59L288.06 279.52L288.26 279.44L288.47 279.34L288.67 279.24L288.87 279.12L289.08 279.00L289.28 278.87L289.48 278.73L289.69 278.59L289.89 278.44L290.09 278.28L290.29 278.13L290.50 277.97L290.70 277.82L290.90 277.66L291.11 277.51L291.31 277.36L291.51 277.22L291.72 277.09L291.92 276.96L292.12 276.83L292.33 276.72L292.53 276.62L292.73 276.52L292.94 276.44L293.14 276.37L293.34 276.31L293.55 276.27L293.75 276.23L293.95 276.21L294.16 276.20L294.36 276.21L294.56 276.22L294.77 276.25L294.97 276.29L295.17 276.34L295.37 276.41L295.58 276.48L295.78 276.56L295.98 276.65L296.19 276.75L296.39 276.86L296.59 276.97L296.80 277.09L297.00 277.21L297.20 277.34L297.41 277.47L297.61 277.60L297.81 277.73L298.02 277.85L298.22 277.98L298.42 278.11L298.63 278.23L298.83 278.34L299.03 278.45L299.24 278.56L299.44 278.65L299.64 278.74L299.85 278.83L300.05 278.90L300.25 278.96L300.46 279.01L300.66 279.06L300.86 279.09L301.06 279.11L301.27 279.13L301.47 279.13L301.67 279.12L301.88 279.10L302.08 279.07L302.28 279.03L302.49 278.98L302.69 278.93L302.89 278.86L303.10 278.79L303.30 278.71L303.50 278.62L303.71 278.53L303.91 278.44L304.11 278.34L304.32 278.23L304.52 278.13L304.72 278.02L304.93 277.91L305.13 277.80L305.33 277.70L305.54 277.59L305.74 277.49L305.94 277.39L306.14 277.30L306.35 277.21L306.55 277.13L306.75 277.05L306.96 276.98L307.16 276.91L307.36 276.86L307.57 276.81L307.77 276.77L307.97 276.74L308.18 276.72L308.38 276.70L308.58 276.70L308.79 276.70L308.99 276.71L309.19 276.73L309.40 276.76L309.60 276.80L309.80 276.84L310.01 276.89L310.21 276.95L310.41 277.01L310.62 277.08L310.82 277.15L311.02 277.23L311.22 277.32L311.43 277.40L311.63 277.49L311.83 277.58L312.04 277.66L312.24 277.75L312.44 277.84L312.65 277.93L312.85 278.02L313.05 278.10L313.26 278.18L313.46 278.26L313.66 278.33L313.87 278.40L314.07 278.46L314.27 278.51L314.48 278.56L314.68 278.61L314.88 278.64L315.09 278.67L315.29 278.69L315.49 278.71L315.70 278.72L315.90 278.72L316.10 278.71L316.30 278.70L316.51 278.68L316.71 278.65L316.91 278.62L317.12 278.58L317.32 278.53L317.52 278.48L317.73 278.43L317.93 278.37L318.13 278.30L318.34 278.24L318.54 278.17L318.74 278.09L318.95 278.02L319.15 277.95L319.35 277.87L319.56 277.80L319.76 277.72L319.96 277.65L320.17 277.58L320.37 277.51L320.57 277.45L320.78 277.39L320.98 277.33L321.18 277.28L321.38 277.23L321.59 277.18L321.79 277.15L321.99 277.11L322.20 277.09L322.40 277.06L322.60 277.05L322.81 277.04L323.01 277.04L323.21 277.04L323.42 277.05L323.62 277.06L323.82 277.08L324.03 277.11L324.23 277.14L324.43 277.17L324.64 277.21L324.84 277.26L325.04 277.31L325.25 277.36L325.45 277.41L325.65 277.47L325.86 277.53L326.06 277.59L326.26 277.65L326.47 277.71L326.67 277.77L326.87 277.83L327.07 277.89L327.28 277.95L327.48 278.01L327.68 278.07L327.89 278.12L328.09 278.17L328.29 278.21L328.50 278.26L328.70 278.30L328.90 278.33L329.11 278.36L329.31 278.38L329.51 278.40L329.72 278.42L329.92 278.43L330.12 278.43L330.33 278.43L330.53 278.43L330.73 278.42L330.94 278.40L331.14 278.39L331.34 278.36L331.55 278.33L331.75 278.30L331.95 278.27L332.15 278.23L332.36 278.19L332.56 278.14L332.76 278.10L332.97 278.05L333.17 278.00L333.37 277.95L333.58 277.90L333.78 277.85L333.98 277.80L334.19 277.74L334.39 277.69L334.59 277.65L334.80 277.60L335.00 277.55L335.20 277.51L335.41 277.47L335.61 277.44L335.81 277.40L336.02 277.37L336.22 277.35L336.42 277.32L336.63 277.31L336.83 277.29L337.03 277.28L337.23 277.27L337.44 277.27L337.64 277.27L337.84 277.28L338.05 277.29L338.25 277.31L338.45 277.32L338.66 277.34L338.86 277.37L339.06 277.40L339.27 277.43L339.47 277.46L339.67 277.50L339.88 277.53L340.08 277.57L340.28 277.61L340.49 277.66L340.69 277.70L340.89 277.74L341.10 277.78L341.30 277.83L341.50 277.87L341.71 277.91L341.91 277.95L342.11 277.99L342.31 278.02L342.52 278.06L342.72 278.09L342.92 278.12L343.13 278.14L343.33 278.17L343.53 278.19L343.74 278.20L343.94 278.22L344.14 278.23L344.35 278.24L344.55 278.24L344.75 278.24L344.96 278.23L345.16 278.23L345.36 278.22L345.57 278.20L345.77 278.19L345.97 278.17L346.18 278.15L346.38 278.12L346.58 278.10L346.79 278.07L346.99 278.04L347.19 278.00L347.39 277.97L347.60 277.94L347.80 277.90L348.00 277.87L348.21 277.83L348.41 277.79L348.61 277.76L348.82 277.72L349.02 277.69L349.22 277.66L349.43 277.63L349.63 277.60L349.83 277.57L350.04 277.55L350.24 277.52L350.44 277.50L350.65 277.49L350.85 277.47L351.05 277.46L351.26 277.45L351.46 277.44L351.66 277.44L351.87 277.44L352.07 277.44L352.27 277.44L352.48 277.45L352.68 277.46L352.88 277.47L353.08 277.49L353.29 277.50L353.49 277.52L353.69 277.54L353.90 277.57L354.10 277.59L354.30 277.62L354.51 277.65L354.71 277.67L354.91 277.70L355.12 277.73L355.32 277.76L355.52 277.79L355.73 277.82L355.93 277.85L356.13 277.88L356.34 277.90L356.54 277.93L356.74 277.96L356.95 277.98L357.15 278.00L357.35 278.02L357.56 278.04L357.76 278.06L357.96 278.07L358.16 278.08L358.37 278.09L358.57 278.10L358.77 278.10L358.98 278.10L359.18 278.10L359.38 278.10L359.59 278.10L359.79 278.09L359.99 278.08L360.20 278.07L360.40 278.05L360.60 278.04L360.81 278.02L361.01 278.00L361.21 277.98L361.42 277.96L361.62 277.94L361.82 277.92L362.03 277.89L362.23 277.87L362.43 277.84L362.64 277.82L362.84 277.79L363.04 277.77L363.24 277.75L363.45 277.72L363.65 277.70L363.85 277.68L364.06 277.66L364.26 277.64L364.46 277.62L364.67 277.61L364.87 277.59L365.07 277.58L365.28 277.57L365.48 277.56L365.68 277.56L365.89 277.55L366.09 277.55L366.29 277.55L366.50 277.55L366.70 277.55L366.90 277.56L367.11 277.56L367.31 277.57L367.51 277.58L367.72 277.60L367.92 277.61L368.12 277.62L368.32 277.64L368.53 277.66L368.73 277.68L368.93 277.69L369.14 277.71L369.34 277.73L369.54 277.75L369.75 277.77L369.95 277.80L370.15 277.82L370.36 277.84L370.56 277.85L370.76 277.87L370.97 277.89L371.17 277.91L371.37 277.93L371.58 277.94L371.78 277.95L371.98 277.97L372.19 277.98L372.39 277.99L372.59 277.99L372.80 278.00L373.00 278.01L373.20 278.01L373.40 278.01L373.61 278.01L373.81 278.01L374.01 278.00L374.22 278.00L374.42 277.99L374.62 277.98L374.83 277.97L375.03 277.96L375.23 277.95L375.44 277.94L375.64 277.93L375.84 277.91L376.05 277.90L376.25 277.88L376.45 277.86L376.66 277.85L376.86 277.83L377.06 277.81L377.27 277.79L377.47 277.78L377.67 277.76L377.88 277.75L378.08 277.73L378.28 277.72L378.49 277.70L378.69 277.69L378.89 277.68L379.09 277.67L379.30 277.66L379.50 277.65L379.70 277.64L379.91 277.64L380.11 277.63L380.31 277.63L380.52 277.63L380.72 277.63L380.92 277.63L381.13 277.63L381.33 277.63L381.53 277.64L381.74 277.64L381.94 277.65L382.14 277.66L382.35 277.67L382.55 277.68L382.75 277.69L382.96 277.70L383.16 277.71L383.36 277.73L383.57 277.74L383.77 277.76L383.97 277.77L384.17 277.78L384.38 277.80L384.58 277.81L384.78 277.83L384.99 277.84L385.19 277.85L385.39 277.86L385.60 277.88L385.80 277.89L386.00 277.90L386.21 277.91L386.41 277.92L386.61 277.92L386.82 277.93L387.02 277.93L387.22 277.94L387.43 277.94L387.63 277.94L387.83 277.95L388.04 277.94L388.24 277.94L388.44 277.94L388.65 277.94L388.85 277.93L389.05 277.93L389.25 277.92L389.46 277.91L389.66 277.90L389.86 277.90L390.07 277.89L390.27 277.88L390.47 277.87L390.68 277.85L390.88 277.84L391.08 277.83L391.29 277.82L391.49 277.81L391.69 277.80L391.90 277.78L392.10 277.77L392.30 277.76L392.51 277.75L392.71 277.74L392.91 277.73L393.12 277.72L393.32 277.71L393.52 277.71L393.73 277.70L393.93 277.69L394.13 277.69L394.33 277.69L394.54 277.68L394.74 277.68L394.94 277.68L395.15 277.68L395.35 277.68L395.55 277.68L395.76 277.68L395.96 277.69L396.16 277.69L396.37 277.70L396.57 277.70L396.77 277.71L396.98 277.72L397.18 277.72L397.38 277.73L397.59 277.74L397.79 277.75L397.99 277.76L398.20 277.77L398.40 277.78L398.60 277.79L398.81 277.80L399.01 277.81L399.21 277.82L399.41 277.83L399.62 277.84L399.82 277.85L400.02 277.85L400.23 277.86L400.43 277.87L400.63 277.87L400.84 277.88L401.04 277.89L401.24 277.89L401.45 277.89L401.65 277.90L401.85 277.90L402.06 277.90L402.26 277.90L402.46 277.90L402.67 277.90L402.87 277.90L403.07 277.89L403.28 277.89L403.48 277.89L403.68 277.88L403.89 277.88L404.09 277.87L404.29 277.87L404.50 277.86L404.70 277.85L404.90 277.84L405.10 277.84L405.31 277.83L405.51 277.82L405.71 277.81L405.92 277.80L406.12 277.80L406.32 277.79L406.53 277.78L406.73 277.77L406.93 277.77L407.14 277.76L407.34 277.75L407.54 277.75L407.75 277.74L407.95 277.74L408.15 277.73L408.36 277.73L408.56 277.72L408.76 277.72L408.97 277.72L409.17 277.72L409.37 277.72L409.58 277.72L409.78 277.72L409.98 277.72L410.18 277.72L410.39 277.72L410.59 277.73L410.79 277.73L411.00 277.73L411.20 277.74L411.40 277.74L411.61 277.75L411.81 277.75L412.01 277.76L412.22 277.77L412.42 277.77L412.62 277.78L412.83 277.79L413.03 277.79L413.23 277.80L413.44 277.81L413.64 277.81L413.84 277.82L414.05 277.83L414.25 277.83L414.45 277.84L414.66 277.84L414.86 277.85L415.06 277.85L415.26 277.86L415.47 277.86L415.67 277.86L415.87 277.86L416.08 277.87L416.28 277.87L416.48 277.87L416.69 277.87L416.89 277.87L417.09 277.87L417.30 277.87L417.50 277.87L417.70 277.86L417.91 277.86L418.11 277.86L418.31 277.85L418.52 277.85L418.72 277.85L418.92 277.84L419.13 277.84L419.33 277.83L419.53 277.83L419.74 277.82L419.94 277.81L420.14 277.81L420.34 277.80L420.55 277.80L420.75 277.79L420.95 277.79L421.16 277.78L421.36 277.78L421.56 277.77L421.77 277.77L421.97 277.76L422.17 277.76L422.38 277.76L422.58 277.75L422.78 277.75L422.99 277.75L423.19 277.75L423.39 277.74L423.60 277.74L423.80 277.74L424.00 277.74L424.21 277.74L424.41 277.74L424.61 277.74L424.82 277.75L425.02 277.75L425.22 277.75L425.42 277.75L425.63 277.76L425.83 277.76L426.03 277.76L426.24 277.77L426.44 277.77L426.64 277.78L426.85 277.78L427.05 277.79L427.25 277.79L427.46 277.80L427.66 277.80L427.86 277.80L428.07 277.81L428.27 277.81L428.47 277.82L428.68 277.82L428.88 277.83L429.08 277.83L429.29 277.83L429.49 277.84L429.69 277.84L429.90 277.84L430.10 277.84L430.30 277.84L430.51 277.85L430.71 277.85L430.91 277.85L431.11 277.85L431.32 277.85L431.52 277.85L431.72 277.85L431.93 277.85L432.13 277.84L432.33 277.84L432.54 277.84L432.74 277.84L432.94 277.83L433.15 277.83L433.35 277.83L433.55 277.82L433.76 277.82L433.96 277.82L434.16 277.81L434.37 277.81L434.57 277.81L434.77 277.80L434.98 277.80L435.18 277.79L435.38 277.79L435.59 277.79L435.79 277.78L435.99 277.78L436.19 277.78L436.40 277.77L436.60 277.77L436.80 277.77L437.01 277.77L437.21 277.76L437.41 277.76L437.62 277.76L437.82 277.76L438.02 277.76L438.23 277.76L438.43 277.76L438.63 277.76L438.84 277.76L439.04 277.76L439.24 277.76L439.45 277.76L439.65 277.77L439.85 277.77L440.06 277.77L440.26 277.77L440.46 277.78L440.67 277.78L440.87 277.78L441.07 277.78L441.27 277.79L441.48 277.79L441.68 277.79" stroke="#0000ff" stroke-width="1.4" fill="none" stroke-linejoin="round"/>
</g>
<path d="M157.40 346.10v-3.00M157.40 222.60v3.00M226.15 346.10v-3.00M226.15 222.60v3.00M294.90 346.10v-3.00M294.90 222.60v3.00M363.65 346.10v-3.00M363.65 222.60v3.00M432.40 346.10v-3.00M432.40 222.60v3.00M157.40 334.46h3.00M441.70 334.46h-3.00M157.40 306.13h3.00M441.70 306.13h-3.00M157.40 277.80h3.00M441.70 277.80h-3.00M157.40 249.47h3.00M441.70 249.47h-3.00" stroke="#262626" stroke-width="1.1" fill="none"/>
<rect x="157.40" y="222.60" width="284.30" height="123.50" stroke="#262626" stroke-width="1.1" fill="none"/>
<g font-family="Liberation Sans, Arial, sans-serif" font-size="12" fill="#262626" stroke="#262626" stroke-width="0.15">
<text x="157.60" y="360.6" text-anchor="middle">0</text>
<text x="226.35" y="360.6" text-anchor="middle">0.2</text>
<text x="295.10" y="360.6" text-anchor="middle">0.4</text>
<text x="363.85" y="360.6" text-anchor="middle">0.6</text>
<text x="432.60" y="360.6" text-anchor="middle">0.8</text>
<text x="153.6" y="339.16" text-anchor="end">-2</text>
<text x="153.6" y="310.83" text-anchor="end">-1</text>
<text x="153.6" y="282.50" text-anchor="end">0</text>
<text x="153.6" y="254.17" text-anchor="end">1</text>
</g>
<rect x="394.4" y="23.7" width="132.2" height="36.6" fill="#fff" stroke="#262626" stroke-width="1.1"/>
<path d="M398 33.9H442.5" stroke="#ff0000" stroke-width="1.4"/>
<path d="M398 50.5H442.5" stroke="#0000ff" stroke-width="1.4"/>
<g font-family="Liberation Serif, serif" font-size="12.2" fill="#000" stroke="#000" stroke-width="0.12">
<text transform="translate(446,37.5) scale(1.15,1)" x="0" y="0">Proposed</text>
<text transform="translate(446,53.8) scale(1.15,1)" x="0" y="0">Backstepping</text>
</g>
<path d="M83.1 202.8L129.5 266" stroke="#000" stroke-width="1.1" fill="none"/>
<path d="M135.3 273.9L131.3 259.3L128.8 265.5L122.0 265.5Z" fill="#000" stroke="#000" stroke-width="0.6" stroke-linejoin="miter"/>
</svg>
</body></html>
